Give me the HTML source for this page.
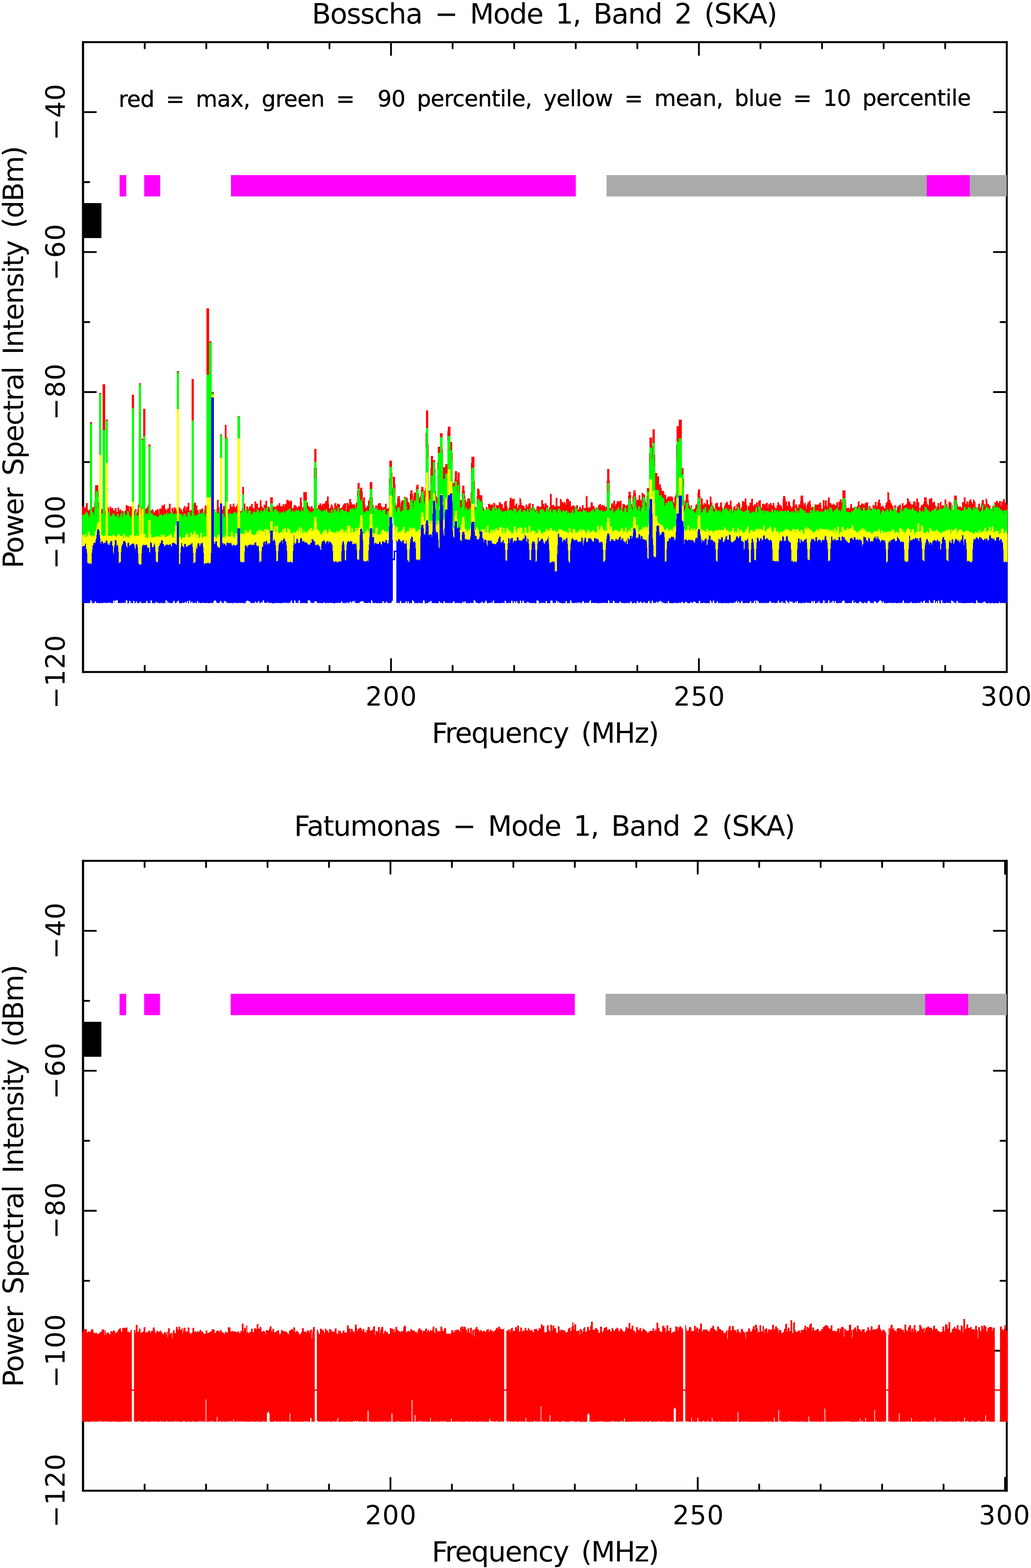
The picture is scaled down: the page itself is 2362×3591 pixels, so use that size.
<!DOCTYPE html>
<html lang="en">
<head>
<meta charset="utf-8">
<title>Power Spectral Intensity - Mode 1, Band 2 (SKA)</title>
<style>
html,body{margin:0;padding:0;background:#fff}
body{width:2362px;height:3591px}
svg{display:block;width:2362px;height:3591px}
text{font-family:"DejaVu Sans", "Liberation Sans", sans-serif;fill:#000;white-space:pre}
</style>
</head>
<body>
<svg width="2362" height="3591" viewBox="0 0 2362 3591">
<rect width="2362" height="3591" fill="#fff"/>
<g id="plot1">
<path d="M190.2 94.3V1541.2" fill="none" stroke="#000" stroke-width="5.0"/>
<path d="M2306.5 94.3V1541.2" fill="none" stroke="#000" stroke-width="4.4"/>
<path d="M188.29999999999998 96.5H2308.3M188.29999999999998 1539.0H2308.3" fill="none" stroke="#000" stroke-width="4.4"/>
<path d="M331.6 1539.0v-14.3M331.6 96.5v14.3M472.6 1539.0v-14.3M472.6 96.5v14.3M613.7 1539.0v-14.3M613.7 96.5v14.3M754.8 1539.0v-14.3M754.8 96.5v14.3M895.8 1539.0v-29.6M895.8 96.5v29.6M1036.9 1539.0v-14.3M1036.9 96.5v14.3M1178.0 1539.0v-14.3M1178.0 96.5v14.3M1319.0 1539.0v-14.3M1319.0 96.5v14.3M1460.1 1539.0v-14.3M1460.1 96.5v14.3M1601.2 1539.0v-29.6M1601.2 96.5v29.6M1742.2 1539.0v-14.3M1742.2 96.5v14.3M1883.3 1539.0v-14.3M1883.3 96.5v14.3M2024.4 1539.0v-14.3M2024.4 96.5v14.3M2165.4 1539.0v-14.3M2165.4 96.5v14.3M190.2 1378.7h14.3M2306.4 1378.7h-14.3M190.2 1218.4h29.6M2306.4 1218.4h-29.6M190.2 1058.2h14.3M2306.4 1058.2h-14.3M190.2 897.9h29.6M2306.4 897.9h-29.6M190.2 737.6h14.3M2306.4 737.6h-14.3M190.2 577.3h29.6M2306.4 577.3h-29.6M190.2 417.1h14.3M2306.4 417.1h-14.3M190.2 256.8h29.6M2306.4 256.8h-29.6" fill="none" stroke="#000" stroke-width="4.1" stroke-linecap="round"/>
<rect x="190.5" y="465.1" width="41.9" height="80.1" fill="#000"/>
<rect x="274.0" y="401.0" width="15.2" height="48.9" fill="#f0f"/>
<rect x="330.4" y="401.0" width="36.4" height="48.9" fill="#f0f"/>
<rect x="529.1" y="401.0" width="790.0" height="48.9" fill="#f0f"/>
<rect x="1389.6" y="401.0" width="916.9" height="48.9" fill="#aaa"/>
<rect x="2123.1" y="401.0" width="98.7" height="48.9" fill="#f0f"/>
<g shape-rendering="crispEdges">
<path fill="#f00" d="M188 1381V1159h1v1h2v3h1v5h1v-6h2v1h1v-6h1v-5h2v1h1v-1h1v16h1v1h2v-3h1v1h1v-200h5v195h1v-1h2v3h1v-4h1v-11h1v-25h1v-13h7v13h1v26h1v-250h5v266h1v1h1v-3h1v-284h6v290h1v-209h5v198h1v4h1v1h1v9h1v-13h3v1h1v4h1v-2h2v1h2v5h3v-6h2v1h2v9h2v-10h1v-1h3v8h1v-3h1v-1h1v1h2v4h2v-1h4v2h1v-2h1v-1h1v1h1v-13h2v-1h1v1h1v2h1v-1h1v1h2v12h1v-12h1v1h2v1h1v-1h1v-256h5v267h1v-1h1v-4h4v9h1v-3h1v-6h1v-10h1v-1h1v-277h5v284h1v-157h4v-69h5v229h1v1h1v-3h3v-4h1v-4h1v-137h5v152h1v-1h1v-2h2v-1h2v4h1v5h1v-2h1v-1h1v-4h1v1h3v-2h1v-1h3v1h1v10h1v-13h1v1h2v-1h1v1h1v-8h1v1h2v-1h2v-1h1v-1h1v-1h1v12h3v1h1v3h1v-6h4v-11h1v1h3v19h2v-9h2v-1h1v-1h1v8h1v-8h4v3h2v5h1v-320h5v311h2v4h3v1h1v2h1v3h1v2h1v-9h2v-4h1v-1h1v-1h1v1h1v10h1v-7h1v-1h2v-1h1v-9h2v1h2v18h2v-1h1v-1h2v-300h5v285h1v-2h4v6h2v1h1v10h3v8h1v-1h1v-8h2v1h1v-3h1v1h1v-1h1v-1h3v7h1v-4h2v-9h1v-1h2v1h1v-452h6v76h6v116h5v269h1v1h3v5h2v-8h1v-20h1v-1h1v1h2v16h1v1h1v11h1v-178h5v172h2v-8h3v-1h1v-185h4v30h3v165h1v-1h1v-2h2v-11h1v1h2v-1h1v6h1v1h1v-1h1v-6h2v-1h2v7h1v1h1v1h2v-5h1v2h1v-5h1v-201h6v217h1v1h2v-1h1v-6h1v-49h4v38h3v15h1v-1h1v-7h4v6h2v-5h1v-1h3v-1h1v-4h1v-1h3v9h3v4h1v-18h1v-1h2v1h1v4h1v1h2v-1h1v9h1v1h2v-1h1v-16h2v-1h1v1h1v13h1v1h1v2h2v1h1v-7h1v-1h1v1h2v-9h2v-1h1v1h1v14h1v-1h1v1h1v1h1v-1h2v8h1v-30h6v21h2v-2h1v2h1v2h1v-1h2v-1h1v-2h1v-1h1v-1h1v1h1v2h1v-6h2v-1h2v7h3v1h2v-4h1v-1h1v-1h1v1h1v5h1v-5h1v-1h1v-1h1v1h1v-9h2v-1h2v2h3v3h2v-3h2v1h1v1h1v17h1v-1h2v-3h1v-4h1v-1h1v1h1v-1h1v2h1v1h2v3h2v1h1v-4h3v1h1v-21h4v11h1v15h1v-3h1v-1h1v-34h8v24h2v-1h1v9h2v1h1v1h2v4h1v-5h1v-1h1v-1h1v1h1v6h1v-2h1v1h1v-93h1v-43h5v43h1v93h1v2h1v-9h3v-1h1v-4h1v1h3v5h2v-5h1v1h3v-2h1v1h2v-5h1v-1h3v-10h4v17h1v11h1v-1h1v-1h1v-4h1v-4h1v1h1v-1h1v1h1v5h1v4h1v-2h2v-10h2v-1h1v-1h1v7h1v1h1v-5h1v-1h2v1h1v1h1v1h1v-1h1v9h1v1h1v-2h2v-2h2v-4h1v-2h2v-2h1v-1h1v1h3v15h1v-16h1v-1h1v1h1v1h2v4h1v-14h3v-1h1v8h2v5h6v1h1v-1h1v8h1v-11h2v-2h1v-27h1v-17h5v17h1v-6h5v8h1v22h1v-8h4v16h1v8h1v-1h2v-4h3v-12h2v1h1v-8h1v-35h6v35h1v17h1v1h1v7h1v-1h1v8h1v-10h1v-4h1v1h1v-1h1v2h2v-5h2v-2h2v1h1v-1h2v1h1v6h1v1h1v-1h1v5h1v-3h1v1h1v-1h3v-7h2v-1h1v1h1v11h2v-1h2v-1h1v-67h1v-41h6v27h1v36h1v-26h5v17h1v43h1v5h1v3h1v-7h1v-13h1v-4h5v8h1v16h1v-8h1v-4h1v-2h4v-1h1v-7h5v2h4v9h2v1h1v1h1v5h1v-25h1v-8h5v8h1v15h1v-10h1v-8h5v-13h1v-5h5v20h1v10h2v-3h1v-3h1v-13h1v-6h5v7h1v13h1v-11h1v-1h1v-6h1v-126h1v-51h5v76h1v108h3v-3h1v-48h1v-29h5v10h5v20h1v51h1v12h2v3h1v-81h1v-36h5v-31h6v37h1v41h5v-7h5v-76h1v-10h6v35h4v25h1v69h4v-9h1v-18h5v21h1v-18h5v26h1v37h4v-21h1v-12h5v12h1v11h1v10h2v5h2v-6h1v-3h5v2h1v4h1v-20h1v-67h1v-14h7v55h1v59h1v1h1v2h1v-1h1v-26h1v-17h5v4h1v11h5v1h1v14h1v12h1v1h1v3h2v2h2v2h1v-8h2v1h2v4h1v-12h3v-1h1v2h1v1h3v-1h3v3h1v-7h1v1h3v2h1v10h1v-6h1v-2h2v1h4v-7h4v3h1v1h1v1h2v-1h1v9h2v1h1v-15h1v1h1v-2h1v-1h2v1h1v10h1v4h1v4h2v-2h1v-1h1v-16h1v-7h3v-1h1v4h3v-1h4v17h1v-2h1v-4h1v1h1v-1h2v11h1v-1h1v-6h1v-1h1v1h1v-17h1v1h1v1h2v9h1v6h1v-1h1v2h3v1h2v6h1v-1h1v-8h1v-1h1v1h2v5h1v-1h1v-6h1v1h1v-2h1v-1h2v1h1v12h2v-5h1v-6h3v1h1v8h2v1h1v4h2v-1h1v-7h2v-1h4v1h1v1h3v-1h1v-14h1v-1h2v1h1v8h3v7h1v-9h1v1h1v-1h2v4h1v2h2v-1h1v9h1v-1h1v-3h1v-1h1v-30h4v26h3v-1h3v3h1v1h2v-20h2v1h1v-1h1v19h2v1h1v-1h1v1h1v-2h1v-16h1v1h2v2h1v4h1v1h2v-1h1v4h1v-3h3v2h1v4h1v-13h1v-1h2v-1h1v3h1v-1h1v1h1v4h4v12h3v-2h1v-2h1v1h1v1h2v2h3v-1h1v-2h3v1h1v9h1v-1h2v-6h2v1h1v1h1v3h2v-8h2v-1h1v1h1v7h3v-1h2v-27h1v-1h1v1h2v26h1v1h1v-1h5v-10h1v-2h3v1h1v8h1v-1h1v1h1v1h1v5h1v-1h1v1h1v-1h1v-2h4v-5h3v-3h4v6h1v-3h2v-1h2v2h4v3h1v1h1v-2h2v-59h1v-27h5v27h1v63h1v-1h1v-1h1v-8h1v-1h1v-1h2v4h1v-9h2v-1h2v13h1v-5h2v-1h1v-6h1v1h1v-1h2v1h1v1h2v-2h1v-1h2v1h1v14h1v1h1v-8h1v1h1v-1h2v1h2v3h3v-1h2v-1h1v-1h1v-20h1v-9h5v8h1v20h2v7h1v-24h1v-3h1v-11h5v6h1v10h1v7h1v-1h3v-1h1v-10h3v1h1v10h1v-1h1v3h1v-19h1v1h3v3h3v2h1v10h1v6h1v1h1v-16h1v-17h5v-80h1v-36h6v20h1v-39h5v58h1v42h5v8h4v18h2v1h1v-1h1v8h2v7h5v3h1v7h1v-1h3v9h1v1h1v-3h1v-3h12v3h1v9h2v4h1v-15h1v-1h1v-2h1v-5h1v-111h1v-43h5v-15h7v111h4v24h1v48h1v13h1v-9h1v-3h1v-13h6v14h1v7h1v5h2v4h1v-4h1v-1h1v1h2v9h3v-1h2v-1h1v-2h1v-7h2v-1h2v-5h1v-22h1v-7h5v16h1v19h1v-16h1v1h1v1h2v14h1v-1h1v-4h1v1h1v1h1v-2h1v4h1v-1h1v-9h2v-1h2v10h1v1h1v1h1v1h1v-21h1v1h2v1h1v13h2v6h2v2h1v5h1v1h2v-12h2v1h1v-3h2v1h1v-1h1v9h1v1h2v1h1v-5h1v-6h1v-1h2v1h1v11h2v1h1v1h1v1h1v-7h1v-1h1v-5h2v1h1v-4h3v1h1v7h1v-1h3v-10h2v1h2v12h1v5h1v1h1v5h1v-9h1v-2h3v-1h1v8h1v-1h1v-11h1v1h2v-1h1v-4h1v1h2v1h1v3h1v10h2v-4h1v-1h1v-13h1v1h3v1h2v-8h1v1h2v-1h1v15h1v1h1v9h1v-3h1v-4h2v-1h1v-7h4v-9h1v1h1v-1h2v16h1v2h1v-5h4v1h1v-5h2v-1h2v10h1v-13h1v2h1v-4h1v1h1v-1h2v18h1v-1h2v-8h3v-1h1v2h4v-3h2v-1h2v1h1v11h1v-9h1v1h3v-4h1v1h2v1h1v5h2v-6h1v1h1v-1h1v-1h1v8h1v3h1v2h3v-6h2v-7h1v-1h2v1h1v4h1v1h2v1h1v1h2v4h1v5h1v-24h1v-7h5v5h1v8h1v-1h2v11h1v-1h1v-10h2v1h1v-1h1v3h1v7h2v5h1v-1h2v-2h1v-12h1v-3h1v-1h1v-1h2v15h1v-3h1v-1h1v1h1v1h1v4h1v2h1v1h1v-8h3v1h1v-8h1v-13h6v13h1v10h1v-5h1v-1h3v7h1v6h1v-9h1v-2h1v-4h2v1h1v-3h1v-2h1v1h1v-1h1v9h1v9h1v-3h2v-1h2v1h2v-1h1v-5h2v1h1v-1h1v1h3v-1h4v-4h4v7h1v7h1v2h1v-4h1v-18h4v14h1v-12h1v-1h3v12h1v3h1v-16h1v-5h1v-1h2v1h1v12h3v1h1v3h3v-3h2v1h1v1h1v3h1v-2h2v1h1v-6h1v-1h3v12h1v-13h2v-1h1v-5h1v1h1v-1h1v1h1v7h1v-7h1v-21h7v21h1v13h1v7h2v-1h4v1h1v3h1v-5h1v-7h1v-1h3v10h1v-1h3v-2h2v-1h2v1h1v1h2v-2h1v-1h1v-9h1v-1h1v-1h1v-1h1v10h3v-1h1v-3h4v1h2v2h2v-5h1v1h3v-2h1v-1h1v2h2v11h1v-3h4v8h1v-4h1v1h1v1h2v-9h1v1h2v-1h1v4h1v-10h2v-1h2v9h1v1h1v-9h2v-5h2v-1h1v-1h1v9h2v8h1v1h1v-2h1v-1h3v2h1v4h2v1h1v-8h1v-5h2v-2h1v-1h1v-22h2v1h2v16h1v1h2v6h2v2h1v3h1v2h1v1h2v10h1v-4h1v-8h2v1h1v-2h1v11h1v1h1v-7h1v-1h1v-1h3v-3h3v-1h1v9h1v1h1v-13h1v1h1v-1h2v7h1v-1h1v-1h1v-1h3v-2h1v-1h1v-12h2v1h2v5h1v1h1v1h2v5h2v1h1v2h1v-2h2v-7h1v1h1v-1h2v2h2v9h1v-16h1v-1h2v-1h1v8h1v1h2v15h1v-1h1v-1h1v-4h1v-3h2v1h2v-3h2v-5h1v-10h6v10h1v5h1v1h1v2h1v1h1v-15h2v-1h2v-2h1v1h1v-1h1v1h1v10h2v-1h1v-1h3v8h1v1h1v2h1v5h1v-5h2v-8h3v1h1v12h1v-14h1v-1h1v-1h2v11h1v-2h1v-1h3v4h1v-4h1v-13h1v-1h1v1h2v11h2v1h1v6h1v-1h1v-12h1v-1h1v1h2v2h2v1h1v4h1v1h2v12h1v-3h1v-19h1v-12h6v12h1v8h1v4h1v1h2v1h1v-2h1v1h3v3h2v-13h4v-11h4v15h1v1h1v-8h1v1h1v1h2v7h1v-8h2v-4h2v-1h2v5h1v2h1v3h2v-9h2v1h1v1h1v3h1v1h1v13h1v-2h1v1h4v-8h2v-1h2v10h1v-1h1v-4h1v-5h1v-6h1v-2h4v9h1v1h2v5h1v-19h1v1h1v1h1v2h1v8h1v1h1v1h2v4h1v-1h1v-1h1v7h1v2h1v-1h1v-1h1v-4h1v-1h1v-1h2v-3h1v-5h3v1h1v-4h4v4h1v1h2v-5h1v1h2v-1h1v12h1v-12h1v2h3v-6h4v6h1v3h1v1h1v1h1v1h1v1h1V1380h-1v2h-1v-1h-2v-1h-1v1h-1v1h-1v-1h-1v-4h-3v3h-1v1h-3v1h-1v-4h-1v1h-1v-2h-1v4h-1v1h-1v-1h-2v1h-1v-1h-3v1h-1v-1h-2v1h-2v-1h-6v1h-3v-1h-1v-1h-1v1h-1v1h-1v-1h-1v1h-2v-1h-2v-2h-1v-1h-1v-1h-1v3h-1v-1h-3v2h-1v1h-1v-1h-4v-1h-1v2h-1v-2h-2v1h-1v-1h-1v-5h-3v7h-2v-1h-3v1h-1v-1h-2v-1h-2v1h-13v1h-1v-1h-3v1h-1v-1h-2v1h-1v-1h-2v-1h-1v1h-4v-1h-1v1h-2v-3h-1v-2h-1v1h-1v-1h-1v6h-1v-1h-2v-1h-2v1h-1v-4h-1v1h-2v-3h-1v1h-1v-1h-1v7h-1v-1h-2v-1h-1v1h-3v-1h-2v1h-2v-1h-1v1h-2v1h-1v-1h-5v-5h-1v-2h-2v8h-1v-1h-1v1h-1v-1h-1v-6h-1v1h-1v-1h-1v6h-2v-4h-2v1h-1v3h-2v-6h-1v-1h-2v6h-1v1h-4v-1h-1v1h-1v-1h-1v-5h-1v1h-1v-2h-1v7h-1v1h-1v-1h-1v-1h-1v1h-1v-1h-1v1h-3v-5h-1v-1h-1v1h-1v1h-1v4h-3v-3h-3v4h-1v-1h-4v-1h-1v1h-2v-1h-1v2h-1v-1h-9v1h-1v-3h-2v-1h-1v3h-6v1h-1v-1h-1v1h-1v-2h-1v1h-2v-1h-1v1h-1v1h-1v-7h-2v1h-1v4h-1v1h-2v-1h-1v1h-1v1h-1v-2h-1v1h-6v1h-1v-1h-3v-1h-1v1h-3v-1h-1v2h-1v-1h-2v-1h-1v1h-4v-1h-1v1h-5v1h-3v-2h-1v1h-3v-4h-1v2h-1v-1h-1v3h-1v-1h-1v-4h-1v1h-1v-3h-1v2h-1v-1h-1v1h-1v3h-1v-1h-1v1h-1v2h-1v1h-1v-1h-1v-1h-1v-1h-1v-1h-1v-1h-3v4h-2v1h-1v-1h-1v-1h-2v1h-3v-5h-1v1h-1v-1h-1v1h-1v-1h-1v4h-1v1h-1v1h-1v-1h-1v-1h-1v1h-1v-2h-1v1h-1v-1h-1v3h-2v-1h-1v-1h-1v2h-1v-2h-1v-3h-1v2h-1v-2h-1v2h-1v-1h-1v4h-1v-1h-5v1h-1v-3h-3v2h-2v-1h-1v-6h-1v2h-2v5h-10v1h-1v-1h-2v1h-1v-2h-1v1h-2v-5h-1v-2h-1v2h-3v1h-1v4h-2v-1h-1v1h-4v-1h-1v1h-1v1h-2v-1h-3v-4h-2v-1h-1v5h-2v-5h-3v5h-1v-2h-2v1h-2v1h-2v-6h-3v5h-1v1h-1v1h-1v-1h-2v-1h-1v1h-1v1h-1v-7h-2v-1h-1v7h-1v-1h-2v2h-2v-1h-2v1h-1v-4h-1v-1h-2v4h-1v-1h-3v1h-1v1h-2v-1h-1v-5h-3v4h-1v1h-1v-4h-1v-1h-2v4h-1v1h-5v-1h-1v1h-2v-1h-4v-1h-1v2h-2v1h-1v-1h-1v-1h-2v2h-1v-2h-1v2h-1v-1h-1v1h-1v-2h-1v1h-4v1h-1v-5h-1v-1h-1v1h-1v4h-1v-2h-1v-1h-2v3h-5v-3h-2v1h-1v-2h-1v1h-3v-2h-1v6h-2v-2h-1v-2h-1v1h-1v-4h-1v1h-1v-1h-1v7h-2v-1h-1v-1h-2v1h-1v1h-1v-5h-1v1h-1v-1h-1v4h-2v-1h-1v1h-2v-5h-1v-1h-1v1h-1v4h-1v1h-1v-1h-1v1h-1v1h-1v-1h-2v-1h-1v1h-2v-1h-1v1h-1v-1h-1v1h-2v-1h-1v-3h-2v-1h-1v3h-1v2h-5v1h-1v-2h-2v2h-1v-2h-1v1h-1v1h-1v-2h-1v1h-2v1h-1v-2h-1v1h-7v-5h-1v1h-1v1h-1v-3h-1v1h-1v-2h-1v8h-1v-1h-1v-6h-1v1h-1v1h-1v4h-2v-1h-1v1h-3v-4h-3v3h-1v1h-2v1h-1v-1h-3v-1h-1v1h-4v1h-1v-1h-1v1h-1v-1h-2v-4h-1v-2h-1v2h-1v4h-3v1h-1v-4h-3v4h-1v-2h-1v-5h-1v2h-2v4h-1v-2h-1v-1h-1v2h-1v1h-1v-1h-1v1h-1v1h-1v-1h-2v-1h-1v1h-3v-1h-1v1h-1v1h-2v-2h-1v1h-1v1h-2v-1h-2v1h-1v-2h-1v1h-3v1h-2v-1h-3v1h-1v-1h-1v-1h-1v1h-3v1h-1v-4h-1v-1h-2v3h-1v1h-1v1h-1v-1h-1v-1h-1v1h-1v-7h-1v2h-1v-1h-1v5h-1v2h-1v-3h-2v-4h-2v1h-1v6h-2v-1h-5v1h-1v-1h-5v-1h-2v1h-1v1h-1v-1h-5v-5h-3v4h-1v2h-2v-1h-4v-3h-1v1h-2v-1h-1v-1h-1v1h-1v3h-3v-2h-1v1h-1v-2h-1v3h-2v1h-1v-1h-1v1h-1v-1h-2v-1h-1v1h-1v-3h-3v2h-1v1h-2v1h-1v-1h-1v-1h-1v-3h-1v1h-1v1h-1v2h-3v-1h-1v1h-2v-1h-2v2h-2v-2h-1v1h-3v-1h-1v2h-1v-2h-1v1h-2v1h-2v-1h-2v1h-1v-1h-4v-5h-1v1h-2v5h-1v-1h-1v-1h-1v2h-1v-1h-1v1h-2v-1h-3v-1h-1v2h-1v-3h-1v-2h-1v1h-1v3h-1v-5h-1v-1h-1v2h-1v1h-3v3h-2v-3h-3v2h-1v1h-2v-1h-1v1h-3v-5h-2v-1h-1v6h-1v1h-2v-2h-1v1h-1v-5h-2v1h-1v3h-1v1h-3v1h-1v-2h-1v1h-2v-2h-1v-1h-1v1h-1v2h-2v1h-1v-1h-1v-2h-1v-1h-1v-1h-1v4h-1v-1h-2v1h-2v-5h-1v1h-2v4h-2v1h-2v-2h-2v1h-3v1h-2v-1h-1v-4h-1v1h-1v-1h-1v3h-1v1h-1v1h-1v-1h-4v-1h-1v1h-1v1h-1v-2h-1v2h-2v-1h-6v-1h-1v1h-2v-4h-1v1h-2v4h-1v-1h-10v-4h-1v-1h-3v5h-3v-1h-1v1h-4v-6h-3v7h-1v-1h-2v-1h-1v1h-5v-1h-1v1h-9v1h-1v-2h-1v2h-2v-1h-1v1h-1v-1h-2v-1h-1v1h-6v-1h-1v1h-4v-6h-1v-1h-1v2h-1v1h-1v4h-1v-1h-1v1h-2v-1h-1v1h-1v-1h-1v1h-2v-1h-1v2h-1v-1h-1v-3h-1v-2h-1v1h-2v4h-1v-1h-1v1h-1v1h-1v-1h-1v-2h-1v1h-1v-1h-1v2h-2v-1h-2v-1h-1v3h-1v-1h-1v-1h-1v1h-3v1h-1v-2h-1v1h-3v-1h-1v-5h-3v7h-1v-1h-5v1h-1v-5h-2v-1h-1v6h-1v-2h-1v1h-3v1h-1v-1h-2v1h-1v-1h-3v-1h-1v1h-2v-3h-2v1h-1v2h-1v-5h-1v1h-1v-2h-1v6h-1v-1h-2v1h-1v1h-1v-1h-3v-5h-1v-1h-2v1h-1v-1h-1v6h-1v1h-1v-1h-3v1h-1v-1h-2v-4h-1v-1h-1v1h-1v5h-1v-1h-3v-1h-1v1h-5v-1h-1v1h-2v1h-2v-6h-1v1h-1v-1h-1v-1h-3v7h-3v-1h-5v1h-1v-1h-1v-1h-1v2h-1v-1h-5v-2h-4v-1h-1v2h-1v2h-1v-1h-5v-5h-1v-1h-1v1h-1v4h-1v1h-2v-5h-1v-1h-1v1h-1v6h-1v-1h-1v1h-3v-2h-1v-4h-1v1h-2v4h-2v-4h-3v4h-3v-6h-1v1h-2v5h-4v-1h-1v1h-3v1h-1v-2h-1v2h-1v-2h-1v-4h-3v6h-1v-1h-2v-1h-1v1h-6v1h-1v-1h-2v1h-1v-2h-1v1h-2v1h-1v-1h-3v1h-1v-1h-2v-6h-2v1h-1v5h-1v-1h-5v1h-5v1h-1v-1h-2v-5h-2v-1h-1v4h-2v2h-1v1h-1v-1h-2v-3h-2v1h-1v2h-2v-1h-1v1h-1v1h-1v-1h-1v1h-1v-1h-3v-1h-1v1h-2v-4h-2v-2h-2v-1h-1v7h-7v-1h-1v1h-1v1h-2v-1h-3v1h-1v-2h-1v2h-1v-1h-1v-4h-1v1h-1v-1h-1v3h-1v1h-1v-2h-1v-1h-2v4h-2v-1h-3v1h-1v-1h-1v-1h-1v1h-2v-1h-1v2h-1v-2h-1v1h-2v1h-1v-2h-1v1h-1v-4h-3v3h-1v1h-1v-1h-1v1h-1v1h-1v-1h-1v-1h-1v1h-2v1h-1v-2h-1v1h-8v-4h-3v4h-1v1h-2v-1h-1v-1h-1v1h-2v-1h-1v-3h-1v1h-1v-1h-1v4h-1v1h-1v-1h-1v1h-1v-1h-6v1h-1v-1h-4v1h-1v-6h-1v1h-1v-1h-1v4h-1v-1h-1v-1h-2v2h-1v2h-1v-1h-4v1h-3v-6h-1v-1h-3v7h-1v-1h-1v-1h-1v1h-1v1h-2v-2h-1v1h-1v-1h-1v1h-2v-1h-1v2h-2v-1h-4v1h-1v-1h-1v-4h-1v1h-1v-3h-3v7h-1v-1h-2v-1h-1v2h-3v-4h-2v-1h-1v4h-1v1h-1v-5h-1v1h-1v-1h-1v4h-1v-1h-1v2h-1v-1h-7v-5h-1v1h-1v-1h-1v6h-1v-1h-2v-1h-1v1h-6v1h-1v-4h-1v-1h-1v-1h-2v-1h-1v1h-2v1h-1v4h-10v-3h-3v3h-1v-1h-2v2h-1v-1h-1v-4h-3v4h-1v1h-1v-1h-4v1h-1v-1h-1v-1h-1v2h-1v-1h-1v1h-1v-1h-5v-1h-1v2h-1v-1h-3v-1h-1v-4h-1v-2h-1v1h-1v7h-1v-1h-3v-1h-2v1h-8v-1h-2v1h-1v-4h-5v-1h-1v2h-1v1h-1v-1h-1v4h-1v-2h-1v1h-3v1h-1v-1h-3v-1h-1v1h-1v-5h-1v1h-1v-2h-1v5h-1v-3h-1v1h-1v-1h-1v4h-1v-1h-1v-2h-2v-1h-1v3h-1v2h-2v-3h-1v1h-1v-1h-1v3h-1v-1h-1v-1h-1v1h-2v1h-1v-1h-5v-4h-2v1h-1v3h-5v-1h-1v1h-1v-1h-1v1h-6v1h-2v-1h-1v1h-1v-1h-2v-1h-1v1h-4v-1h-2v1h-2v1h-1v-1h-2v-1h-1v1h-1v1h-2v-2h-2v-2h-1v3h-4v1h-1v-1h-5v-1h-1v2h-1v-1h-4v-4h-2v1h-1v-1h-1v1h-1v-1h-1v5h-1v-1h-1v-1h-1v1h-3v-1h-2v1h-1v-5h-1v-1h-3v-1h-1v1h-1v7h-1v-1h-2v1h-1v-1h-7v1h-1v-2h-1v1h-4v1h-1v-7h-3v6h-2v-1h-1v1h-4v-5h-1v-1h-2v6h-1v1h-1v-1h-3v-6h-2v1h-1v4h-1v1h-1v-1h-3v2h-2v-2h-1v1h-1v-1h-1v1h-1v-1h-2v2h-1v-2h-2v1h-6v1h-1v-1h-5v1h-1v-2h-1v1h-8v1h-4v-1h-3v-1h-1v1h-4v1h-1v-3h-1v-1h-1v2h-1v1h-1v-1h-1v1h-2v-1h-1v1h-1v-1h-1v-5h-3v6h-1v-3h-1v1h-1v1h-1v1h-1v-1h-1v1h-1v1h-1v-5h-2v-1h-1v4h-2v1h-2v-3h-1v1h-1v-2h-1v4h-3v-1h-1v1h-3v1h-1v-1h-2v-3h-2v-1h-1v1h-1v-1h-1v-2h-1v1h-1v-1h-1v2h-3v5h-1v-1h-1v1h-1v-2h-1v2h-2v-2h-1v1h-7v-1h-1v1h-9v-1h-1v1h-1v1h-1v-2h-2v2h-2v-1h-8v-1h-1v2h-1v-1h-3v-3h-2v1h-1v-3h-1v1h-1v-1h-1v6h-1v-2h-1v1h-3v-2h-1v-3h-1v1h-1v-1h-1v4h-1v1h-4v-1h-1v1h-2v-3h-1v-1h-1v-2h-3v2h-2v4h-7v-1h-1v1h-1v1h-1v-1h-2v1h-1v-1h-1v-1h-1v1h-9v-1h-2v1h-2v1h-1v-1h-2v-1h-2v1h-2v-5h-1v1h-2v5h-1v-1h-2v-1h-2v1h-2v1h-1v-1h-2v-3h-2v1h-1v2h-2v-6h-1v1h-1v-1h-1v7h-2v-5h-2v-1h-1v5h-2v-2h-1v-1h-1v1h-1v2h-4v-1h-2v1h-1v1h-1v-1h-1v1h-1v-1h-3v-6h-1v1h-2v2h-2v2h-1v1h-1v1h-1v-2h-1v1h-1v-5h-3v4h-1v2h-1v-2h-1v1h-8v-2h-1v-1h-1v-1h-1v5h-1v-8h-1v1h-2v6h-2v1h-1v-1h-4v1h-1v-2h-1v1h-1v-1h-1v1h-1v1h-2v-1h-1v-1h-1v1h-3v-3h-1v1h-1v-1h-1v3h-3v1h-2v-2h-1v1h-1v1h-1v-1h-1v-6h-3v7h-1v-2h-1v1h-2v1h-1v-1h-1v1h-1v-5h-2v-1h-1v5h-9v1h-2v-3h-1v-1h-2v2h-2v1h-2v1h-1v-1h-2v-4h-1v1h-2v3h-1v1h-1v-1h-1v-4h-1v-1h-2v6h-1v-1h-1v1h-1v-2h-1v1h-2v-5h-3v5h-1v1h-1v-1h-1v1h-1v-6h-1v-2h-1v1h-2v6h-3v-1h-1v1h-3v-1h-1v1h-3v-1h-1v2h-1v-1h-5v-7h-1v2h-1v-2h-1v1h-3v1h-1v5h-1v-6h-1v1h-2v6h-1v-1h-2v1h-1v-1h-1v-1h-2v1h-1v-1h-1v1h-2v-1h-1v1h-5v-1h-1v1h-2v-1h-1v1h-4v1h-1v-1h-1v-1h-1v1h-2v1h-2v-1h-4v-1h-1v1h-1v1h-1v-5h-2v1h-1v3h-2v1h-1v-2h-1v2h-1v-2h-1v1h-1v-6h-1v1h-1v-2h-1v7h-5v1h-1v-2h-1v1h-1v-1h-1v1h-1v1h-1v-1h-3v-1h-1v1Z"/>
<path fill="#0f0" d="M188 1381V1180h3v-2h1v-1h4v-6h1v1h3v3h1v1h1v3h1v4h1v1h1v-5h1v-209h5v203h2v-1h1v2h1v6h1v-15h1v-27h1v-13h7v13h1v27h1v-263h5v274h3v-191h6v193h1v-214h5v213h1v-5h1v1h2v-1h1v10h1v1h1v-1h1v-2h1v-1h1v-2h1v-2h4v6h1v1h1v-1h2v2h1v1h1v-7h1v-1h1v1h1v1h1v9h1v-4h2v-2h1v-6h3v-1h1v12h1v-6h1v-9h1v-1h1v2h1v-2h1v8h1v1h1v-1h1v2h2v-9h1v-1h1v1h1v1h1v3h1v6h2v2h1v1h2v-3h1v-246h5v246h1v-1h1v-9h4v8h2v3h2v-1h1v-301h5v298h1v-170h4v-9h5v179h1v-1h2v-1h1v-1h2v4h1v-157h5v153h4v2h1v1h1v3h1v-1h1v1h1v-1h2v1h3v2h2v1h2v-1h1v-4h4v-1h2v-1h1v1h1v4h1v-2h2v-2h1v-1h2v1h2v-4h3v1h1v6h1v-4h1v-1h1v-1h2v1h1v-1h1v1h1v-3h1v-1h3v7h1v-3h1v1h2v1h1v-2h2v1h2v-324h5v323h2v1h2v1h2v-1h2v5h1v2h1v-7h3v-2h1v3h2v4h1v2h2v-9h1v-1h2v-2h4v10h1v-1h2v-218h5v213h1v5h1v-1h1v1h2v-1h2v1h1v-3h1v-1h2v-1h1v1h4v-3h2v1h2v1h1v-11h1v6h1v-4h2v16h1v-6h2v1h1v-320h6v-74h6v117h5v269h2v-1h1v-1h1v5h3v2h1v1h1v-1h2v1h1v-8h1v5h1v-176h5v179h1v1h1v-1h1v7h1v1h1v-1h1v-179h7v179h1v-7h2v-1h2v1h4v2h2v-1h1v-3h1v-1h2v-1h1v1h1v-1h1v3h3v1h1v-222h6v220h1v1h1v-2h1v-1h2v-40h4v38h1v-1h1v2h1v-3h1v-1h1v-1h2v9h2v-6h5v1h1v-1h1v9h1v1h1v-1h1v-3h1v-1h1v-2h3v-2h1v3h4v-7h1v1h2v1h1v2h2v4h1v1h1v-5h1v-1h3v3h1v-1h3v-8h4v7h2v-8h4v10h5v-19h6v19h2v-5h1v-1h1v1h1v-1h1v-1h1v1h2v4h2v1h2v1h2v5h1v-1h1v-2h2v-1h1v-1h1v3h1v-3h1v-1h2v-1h1v4h2v-1h1v-3h4v-2h1v-1h3v-3h2v1h2v8h2v-4h3v1h1v1h3v1h2v-5h1v1h1v-1h2v3h1v-1h1v-1h2v3h3v3h1v-7h2v1h2v3h2v-25h8v19h1v1h1v3h2v1h2v7h1v-5h1v-1h1v2h1v1h1v-1h2v-4h1v1h2v-75h1v-37h5v37h1v75h1v-4h4v1h3v3h1v-1h1v2h1v2h1v-4h1v1h3v-2h2v1h2v-3h2v1h2v6h2v2h1v-1h2v1h1v1h1v-4h1v-4h2v-1h2v7h1v1h1v-10h2v-1h2v3h1v4h4v-9h1v-1h2v1h1v12h2v-5h1v-2h7v4h1v-1h1v1h1v-1h1v-1h1v1h3v3h1v1h1v-1h2v-2h2v-6h1v1h2v1h1v-3h1v-1h2v1h1v5h1v-4h2v-1h2v3h1v-4h1v-1h2v-26h1v-16h5v16h1v10h5v5h1v15h1v7h1v1h1v-1h1v1h1v-1h1v-2h2v-1h1v-1h4v1h2v-17h1v-33h6v33h1v10h2v1h1v10h1v-3h1v-7h2v-2h1v1h2v1h1v4h3v1h1v-1h1v-1h3v5h1v-1h1v-2h1v-1h3v-2h2v-1h1v1h1v10h1v2h2v1h1v-8h4v-62h1v-40h6v27h1v42h1v-21h5v14h1v34h1v7h2v-5h1v-4h1v-1h5v2h1v8h2v-1h1v-1h2v-1h1v-2h1v-14h1v-13h5v3h1v16h1v10h4v-2h1v-1h2v-16h1v-6h5v6h1v14h1v-11h1v-7h5v-20h1v-6h5v23h1v9h4v-20h1v-7h5v11h1v12h2v6h1v-16h1v-113h1v-45h5v68h1v101h1v-6h1v1h1v-1h1v-34h1v-20h5v-31h5v24h1v61h1v7h1v3h1v2h1v-81h1v-37h5v-36h6v39h1v57h4v-3h1v-9h5v-76h1v-10h6v32h4v25h1v58h5v-12h5v22h1v-14h5v21h1v35h1v-6h1v1h2v-20h1v-11h5v11h1v26h1v-5h3v-1h1v7h1v-1h3v-1h1v-1h2v-1h1v-19h1v-62h1v-12h7v50h1v48h1v-6h1v1h1v-1h1v-9h1v-12h5v3h1v3h5v1h1v14h1v7h1v-1h1v1h1v-5h1v2h2v2h1v-2h2v-3h2v2h1v-2h1v1h1v-1h1v5h2v1h2v1h1v-1h1v-5h1v-1h1v-1h1v-3h3v1h1v9h1v-6h1v-1h1v1h2v4h1v-1h1v-4h4v5h1v-1h1v1h2v5h1v-2h1v1h2v-1h3v-1h4v5h1v-7h1v-1h1v-1h1v1h1v2h1v-2h1v1h1v-1h2v1h2v2h2v1h2v-7h3v1h1v1h3v8h2v-3h1v-1h1v-1h2v-1h1v-3h1v-1h3v8h2v1h1v-2h1v-1h2v-2h4v4h1v-1h1v1h1v-7h1v1h3v7h1v1h1v-10h3v1h1v4h1v-1h2v-9h3v4h2v10h1v-1h1v-3h4v-1h1v6h1v1h1v2h1v-2h1v-7h1v-2h1v-1h1v1h2v1h5v4h2v1h1v1h1v-3h1v-4h1v-4h1v1h3v3h1v7h1v-3h1v-4h1v-1h3v7h1v-1h1v4h1v-8h6v1h1v1h1v1h1v5h1v-2h1v-6h2v-1h1v-1h3v3h2v5h3v-4h1v1h1v-1h2v1h1v1h3v-3h1v1h3v6h2v-2h1v1h1v1h1v-1h1v2h1v-2h2v-1h1v-4h1v-1h2v-1h1v10h1v-3h1v-2h1v-11h2v-1h2v5h2v7h2v1h1v-1h1v-2h1v1h1v-1h1v1h1v2h1v-1h1v-1h1v1h1v-5h1v-1h2v1h1v3h1v-1h3v1h1v5h1v-2h4v1h1v-1h1v-1h1v-1h1v-1h2v-1h1v1h1v-3h2v-1h1v1h1v6h2v-6h2v-2h2v-2h2v-1h1v1h1v6h1v-1h2v1h1v3h1v-4h1v1h2v-1h1v2h1v2h2v-1h3v-1h2v-1h2v-42h1v-21h5v21h1v43h3v-2h1v-3h1v-1h3v11h1v-1h1v-3h3v-2h1v-3h1v1h2v1h1v-5h1v-1h2v1h1v7h1v-1h1v-1h1v-7h3v1h1v9h1v1h2v-1h1v-6h1v-2h2v-1h2v11h1v1h1v-1h1v-8h1v-14h1v-9h5v8h1v10h1v5h1v-1h1v5h1v-21h1v-11h5v7h1v15h1v3h1v5h2v2h1v-9h2v-2h1v1h1v12h2v-8h3v-12h1v-13h5v3h1v17h1v12h1v-10h1v-12h1v-22h5v-66h1v-35h6v26h1v-36h5v54h1v53h9v13h1v-1h5v6h5v3h1v15h2v-6h3v-1h1v2h1v-5h12v5h1v4h1v2h1v4h1v4h1v-2h1v-3h1v-14h1v-98h1v-39h5v-7h7v83h4v24h1v57h1v3h1v-3h1v-7h1v-10h6v11h1v4h3v2h1v-9h1v1h1v1h2v7h1v1h1v1h2v2h1v1h1v1h3v-8h2v-1h1v-19h1v-6h5v14h1v10h1v10h1v-1h1v1h1v-1h1v-7h2v1h2v-6h1v1h2v-1h1v14h1v-1h2v-1h1v1h1v-6h1v-1h2v1h1v-8h1v1h1v-3h1v-1h1v-1h1v1h1v14h1v-1h1v1h1v1h1v1h1v-8h4v4h1v1h1v1h1v-2h1v2h1v-2h4v3h1v2h2v-5h1v-7h1v1h1v1h1v1h1v1h3v-3h3v1h1v5h3v1h1v3h1v-7h4v10h1v-10h1v-1h2v5h1v4h1v-2h1v-3h1v1h1v-2h4v3h1v-10h1v-1h3v7h1v-1h2v1h1v3h1v-1h2v1h1v2h1v1h1v-1h2v-1h4v-4h5v2h3v7h1v-1h2v-1h2v-2h3v-1h1v2h1v-1h1v1h1v1h1v-7h1v-5h1v-1h2v1h1v13h1v-2h1v-13h4v3h2v6h4v1h1v-1h4v7h1v-6h7v1h1v1h2v1h3v1h1v-7h1v-1h1v1h2v7h1v-1h1v-5h2v-1h2v2h1v3h1v-2h1v-1h1v-1h1v1h1v4h2v-3h1v-1h1v1h1v-1h1v1h1v1h1v-1h2v1h1v-1h1v1h2v-1h2v-1h2v2h3v-3h2v1h2v6h1v-2h2v-1h2v-1h4v1h2v2h1v1h1v-13h2v1h1v1h1v7h1v5h1v-6h2v-1h2v5h1v-10h2v-1h1v-1h1v3h1v2h1v-1h1v2h2v2h1v-1h2v1h1v5h1v-2h1v1h2v1h1v-1h1v5h1v-5h2v1h1v-6h1v-2h2v1h1v7h1v-6h3v-8h2v-1h1v-5h1v16h1v1h1v-1h2v-2h3v-1h1v3h1v1h1v2h1v-3h4v1h2v-1h1v1h1v1h1v-3h1v-1h1v-2h1v-1h3v3h2v-3h1v1h1v-1h2v7h1v-11h1v-1h1v1h2v2h2v4h1v5h1v-2h3v-4h1v1h1v-1h1v-1h1v1h1v-4h3v1h1v7h1v-4h1v1h1v1h2v2h1v1h1v-3h1v-4h1v-6h1v-18h7v18h1v12h2v2h1v-1h5v1h1v4h1v-4h1v-1h1v-1h4v-1h1v-2h1v-1h1v-6h1v-1h2v1h1v3h3v-1h1v3h1v1h1v-6h3v1h1v6h1v-1h1v3h2v-1h2v-7h4v6h1v2h1v-1h2v-1h3v-6h2v-1h1v-1h1v7h1v1h1v1h2v1h1v-5h3v-2h1v2h1v1h1v-1h4v4h1v1h1v-5h3v2h2v-1h1v1h1v10h2v-5h2v-3h1v-2h1v1h2v2h1v2h1v-1h1v-2h1v1h2v1h1v-6h1v1h1v1h2v2h1v3h2v-7h1v1h1v-1h2v4h3v3h1v-2h1v-1h1v-3h2v-4h3v5h1v1h1v6h2v-1h1v2h1v1h1v-2h2v-8h2v-2h1v1h1v6h1v-1h2v-1h1v-5h1v1h1v-1h1v-1h2v-1h1v1h2v3h1v-1h3v4h1v-4h2v1h1v1h1v1h2v-7h1v2h1v1h1v1h1v2h2v3h2v-1h1v1h2v1h1v1h1v3h1v-1h2v-8h1v1h3v4h1v1h1v-1h1v-1h1v-1h1v2h1v2h1v-1h1v-2h1v-9h3v-1h1v4h1v-1h1v4h1v1h1v1h3v4h2v1h1v-2h2v-4h1v1h1v-1h1v1h1v-1h1v-2h2v-2h1v-1h3v8h1v-2h1v-1h1v1h2v-4h1v1h4v-1h3v1h1v-1h1v-1h1v-1h3v-7h1v-1h1v1h2v10h1v-7h2v3h1v-1h1v4h4v5h1v-1h1v-12h1v-1h1v1h2v13h1v-2h1v-9h1v-13h6v13h1v9h1v-1h1v-1h1v1h1v1h3v2h4v-1h1v1h1v-1h1v-2h1v-6h2v-1h2v7h2v1h1v-1h1v-2h1v-5h1v1h1v1h4v1h2v3h1v2h2v1h1v-6h1v-1h1v-1h2v4h1v-1h1v1h2v-3h2v1h2v4h1v2h1v2h2v3h1v-3h1v-1h1v-4h1v-9h1v-1h1v-1h1v1h1v15h1v-1h1v-1h1v-4h3v-4h2v-1h1v1h1v2h2v5h1v-3h4v3h1v-3h1v-1h1v-3h2v10h1v-13h1v-3h1v-1h1v-1h1v12h1v-4h4v-1h1v3h1v1h1v-2h2v3h1v1h2v3h1v-1h1v1h3v6h1v-6h6v-1h3V1380h-1v2h-1v-1h-2v-1h-1v1h-1v1h-1v-1h-1v-4h-3v3h-1v1h-3v1h-1v-4h-1v1h-1v-2h-1v4h-1v1h-1v-1h-2v1h-1v-1h-3v1h-1v-1h-2v1h-2v-1h-6v1h-3v-1h-1v-1h-1v1h-1v1h-1v-1h-1v1h-2v-1h-2v-2h-1v-1h-1v-1h-1v3h-1v-1h-3v2h-1v1h-1v-1h-4v-1h-1v2h-1v-2h-2v1h-1v-1h-1v-5h-3v7h-2v-1h-3v1h-1v-1h-2v-1h-2v1h-13v1h-1v-1h-3v1h-1v-1h-2v1h-1v-1h-2v-1h-1v1h-4v-1h-1v1h-2v-3h-1v-2h-1v1h-1v-1h-1v6h-1v-1h-2v-1h-2v1h-1v-4h-1v1h-2v-3h-1v1h-1v-1h-1v7h-1v-1h-2v-1h-1v1h-3v-1h-2v1h-2v-1h-1v1h-2v1h-1v-1h-5v-5h-1v-2h-2v8h-1v-1h-1v1h-1v-1h-1v-6h-1v1h-1v-1h-1v6h-2v-4h-2v1h-1v3h-2v-6h-1v-1h-2v6h-1v1h-4v-1h-1v1h-1v-1h-1v-5h-1v1h-1v-2h-1v7h-1v1h-1v-1h-1v-1h-1v1h-1v-1h-1v1h-3v-5h-1v-1h-1v1h-1v1h-1v4h-3v-3h-3v4h-1v-1h-4v-1h-1v1h-2v-1h-1v2h-1v-1h-9v1h-1v-3h-2v-1h-1v3h-6v1h-1v-1h-1v1h-1v-2h-1v1h-2v-1h-1v1h-1v1h-1v-7h-2v1h-1v4h-1v1h-2v-1h-1v1h-1v1h-1v-2h-1v1h-6v1h-1v-1h-3v-1h-1v1h-3v-1h-1v2h-1v-1h-2v-1h-1v1h-4v-1h-1v1h-5v1h-3v-2h-1v1h-3v-4h-1v2h-1v-1h-1v3h-1v-1h-1v-4h-1v1h-1v-3h-1v2h-1v-1h-1v1h-1v3h-1v-1h-1v1h-1v2h-1v1h-1v-1h-1v-1h-1v-1h-1v-1h-1v-1h-3v4h-2v1h-1v-1h-1v-1h-2v1h-3v-5h-1v1h-1v-1h-1v1h-1v-1h-1v4h-1v1h-1v1h-1v-1h-1v-1h-1v1h-1v-2h-1v1h-1v-1h-1v3h-2v-1h-1v-1h-1v2h-1v-2h-1v-3h-1v2h-1v-2h-1v2h-1v-1h-1v4h-1v-1h-5v1h-1v-3h-3v2h-2v-1h-1v-6h-1v2h-2v5h-10v1h-1v-1h-2v1h-1v-2h-1v1h-2v-5h-1v-2h-1v2h-3v1h-1v4h-2v-1h-1v1h-4v-1h-1v1h-1v1h-2v-1h-3v-4h-2v-1h-1v5h-2v-5h-3v5h-1v-2h-2v1h-2v1h-2v-6h-3v5h-1v1h-1v1h-1v-1h-2v-1h-1v1h-1v1h-1v-7h-2v-1h-1v7h-1v-1h-2v2h-2v-1h-2v1h-1v-4h-1v-1h-2v4h-1v-1h-3v1h-1v1h-2v-1h-1v-5h-3v4h-1v1h-1v-4h-1v-1h-2v4h-1v1h-5v-1h-1v1h-2v-1h-4v-1h-1v2h-2v1h-1v-1h-1v-1h-2v2h-1v-2h-1v2h-1v-1h-1v1h-1v-2h-1v1h-4v1h-1v-5h-1v-1h-1v1h-1v4h-1v-2h-1v-1h-2v3h-5v-3h-2v1h-1v-2h-1v1h-3v-2h-1v6h-2v-2h-1v-2h-1v1h-1v-4h-1v1h-1v-1h-1v7h-2v-1h-1v-1h-2v1h-1v1h-1v-5h-1v1h-1v-1h-1v4h-2v-1h-1v1h-2v-5h-1v-1h-1v1h-1v4h-1v1h-1v-1h-1v1h-1v1h-1v-1h-2v-1h-1v1h-2v-1h-1v1h-1v-1h-1v1h-2v-1h-1v-3h-2v-1h-1v3h-1v2h-5v1h-1v-2h-2v2h-1v-2h-1v1h-1v1h-1v-2h-1v1h-2v1h-1v-2h-1v1h-7v-5h-1v1h-1v1h-1v-3h-1v1h-1v-2h-1v8h-1v-1h-1v-6h-1v1h-1v1h-1v4h-2v-1h-1v1h-3v-4h-3v3h-1v1h-2v1h-1v-1h-3v-1h-1v1h-4v1h-1v-1h-1v1h-1v-1h-2v-4h-1v-2h-1v2h-1v4h-3v1h-1v-4h-3v4h-1v-2h-1v-5h-1v2h-2v4h-1v-2h-1v-1h-1v2h-1v1h-1v-1h-1v1h-1v1h-1v-1h-2v-1h-1v1h-3v-1h-1v1h-1v1h-2v-2h-1v1h-1v1h-2v-1h-2v1h-1v-2h-1v1h-3v1h-2v-1h-3v1h-1v-1h-1v-1h-1v1h-3v1h-1v-4h-1v-1h-2v3h-1v1h-1v1h-1v-1h-1v-1h-1v1h-1v-7h-1v2h-1v-1h-1v5h-1v2h-1v-3h-2v-4h-2v1h-1v6h-2v-1h-5v1h-1v-1h-5v-1h-2v1h-1v1h-1v-1h-5v-5h-3v4h-1v2h-2v-1h-4v-3h-1v1h-2v-1h-1v-1h-1v1h-1v3h-3v-2h-1v1h-1v-2h-1v3h-2v1h-1v-1h-1v1h-1v-1h-2v-1h-1v1h-1v-3h-3v2h-1v1h-2v1h-1v-1h-1v-1h-1v-3h-1v1h-1v1h-1v2h-3v-1h-1v1h-2v-1h-2v2h-2v-2h-1v1h-3v-1h-1v2h-1v-2h-1v1h-2v1h-2v-1h-2v1h-1v-1h-4v-5h-1v1h-2v5h-1v-1h-1v-1h-1v2h-1v-1h-1v1h-2v-1h-3v-1h-1v2h-1v-3h-1v-2h-1v1h-1v3h-1v-5h-1v-1h-1v2h-1v1h-3v3h-2v-3h-3v2h-1v1h-2v-1h-1v1h-3v-5h-2v-1h-1v6h-1v1h-2v-2h-1v1h-1v-5h-2v1h-1v3h-1v1h-3v1h-1v-2h-1v1h-2v-2h-1v-1h-1v1h-1v2h-2v1h-1v-1h-1v-2h-1v-1h-1v-1h-1v4h-1v-1h-2v1h-2v-5h-1v1h-2v4h-2v1h-2v-2h-2v1h-3v1h-2v-1h-1v-4h-1v1h-1v-1h-1v3h-1v1h-1v1h-1v-1h-4v-1h-1v1h-1v1h-1v-2h-1v2h-2v-1h-6v-1h-1v1h-2v-4h-1v1h-2v4h-1v-1h-10v-4h-1v-1h-3v5h-3v-1h-1v1h-4v-6h-3v7h-1v-1h-2v-1h-1v1h-5v-1h-1v1h-9v1h-1v-2h-1v2h-2v-1h-1v1h-1v-1h-2v-1h-1v1h-6v-1h-1v1h-4v-6h-1v-1h-1v2h-1v1h-1v4h-1v-1h-1v1h-2v-1h-1v1h-1v-1h-1v1h-2v-1h-1v2h-1v-1h-1v-3h-1v-2h-1v1h-2v4h-1v-1h-1v1h-1v1h-1v-1h-1v-2h-1v1h-1v-1h-1v2h-2v-1h-2v-1h-1v3h-1v-1h-1v-1h-1v1h-3v1h-1v-2h-1v1h-3v-1h-1v-5h-3v7h-1v-1h-5v1h-1v-5h-2v-1h-1v6h-1v-2h-1v1h-3v1h-1v-1h-2v1h-1v-1h-3v-1h-1v1h-2v-3h-2v1h-1v2h-1v-5h-1v1h-1v-2h-1v6h-1v-1h-2v1h-1v1h-1v-1h-3v-5h-1v-1h-2v1h-1v-1h-1v6h-1v1h-1v-1h-3v1h-1v-1h-2v-4h-1v-1h-1v1h-1v5h-1v-1h-3v-1h-1v1h-5v-1h-1v1h-2v1h-2v-6h-1v1h-1v-1h-1v-1h-3v7h-3v-1h-5v1h-1v-1h-1v-1h-1v2h-1v-1h-5v-2h-4v-1h-1v2h-1v2h-1v-1h-5v-5h-1v-1h-1v1h-1v4h-1v1h-2v-5h-1v-1h-1v1h-1v6h-1v-1h-1v1h-3v-2h-1v-4h-1v1h-2v4h-2v-4h-3v4h-3v-6h-1v1h-2v5h-4v-1h-1v1h-3v1h-1v-2h-1v2h-1v-2h-1v-4h-3v6h-1v-1h-2v-1h-1v1h-6v1h-1v-1h-2v1h-1v-2h-1v1h-2v1h-1v-1h-3v1h-1v-1h-2v-6h-2v1h-1v5h-1v-1h-5v1h-5v1h-1v-1h-2v-5h-2v-1h-1v4h-2v2h-1v1h-1v-1h-2v-3h-2v1h-1v2h-2v-1h-1v1h-1v1h-1v-1h-1v1h-1v-1h-3v-1h-1v1h-2v-4h-2v-2h-2v-1h-1v7h-7v-1h-1v1h-1v1h-2v-1h-3v1h-1v-2h-1v2h-1v-1h-1v-4h-1v1h-1v-1h-1v3h-1v1h-1v-2h-1v-1h-2v4h-2v-1h-3v1h-1v-1h-1v-1h-1v1h-2v-1h-1v2h-1v-2h-1v1h-2v1h-1v-2h-1v1h-1v-4h-3v3h-1v1h-1v-1h-1v1h-1v1h-1v-1h-1v-1h-1v1h-2v1h-1v-2h-1v1h-8v-4h-3v4h-1v1h-2v-1h-1v-1h-1v1h-2v-1h-1v-3h-1v1h-1v-1h-1v4h-1v1h-1v-1h-1v1h-1v-1h-6v1h-1v-1h-4v1h-1v-6h-1v1h-1v-1h-1v4h-1v-1h-1v-1h-2v2h-1v2h-1v-1h-4v1h-3v-6h-1v-1h-3v7h-1v-1h-1v-1h-1v1h-1v1h-2v-2h-1v1h-1v-1h-1v1h-2v-1h-1v2h-2v-1h-4v1h-1v-1h-1v-4h-1v1h-1v-3h-3v7h-1v-1h-2v-1h-1v2h-3v-4h-2v-1h-1v4h-1v1h-1v-5h-1v1h-1v-1h-1v4h-1v-1h-1v2h-1v-1h-7v-5h-1v1h-1v-1h-1v6h-1v-1h-2v-1h-1v1h-6v1h-1v-4h-1v-1h-1v-1h-2v-1h-1v1h-2v1h-1v4h-10v-3h-3v3h-1v-1h-2v2h-1v-1h-1v-4h-3v4h-1v1h-1v-1h-4v1h-1v-1h-1v-1h-1v2h-1v-1h-1v1h-1v-1h-5v-1h-1v2h-1v-1h-3v-1h-1v-4h-1v-2h-1v1h-1v7h-1v-1h-3v-1h-2v1h-8v-1h-2v1h-1v-4h-5v-1h-1v2h-1v1h-1v-1h-1v4h-1v-2h-1v1h-3v1h-1v-1h-3v-1h-1v1h-1v-5h-1v1h-1v-2h-1v5h-1v-3h-1v1h-1v-1h-1v4h-1v-1h-1v-2h-2v-1h-1v3h-1v2h-2v-3h-1v1h-1v-1h-1v3h-1v-1h-1v-1h-1v1h-2v1h-1v-1h-5v-4h-2v1h-1v3h-5v-1h-1v1h-1v-1h-1v1h-6v1h-2v-1h-1v1h-1v-1h-2v-1h-1v1h-4v-1h-2v1h-2v1h-1v-1h-2v-1h-1v1h-1v1h-2v-2h-2v-2h-1v3h-4v1h-1v-1h-5v-1h-1v2h-1v-1h-4v-4h-2v1h-1v-1h-1v1h-1v-1h-1v5h-1v-1h-1v-1h-1v1h-3v-1h-2v1h-1v-5h-1v-1h-3v-1h-1v1h-1v7h-1v-1h-2v1h-1v-1h-7v1h-1v-2h-1v1h-4v1h-1v-7h-3v6h-2v-1h-1v1h-4v-5h-1v-1h-2v6h-1v1h-1v-1h-3v-6h-2v1h-1v4h-1v1h-1v-1h-3v2h-2v-2h-1v1h-1v-1h-1v1h-1v-1h-2v2h-1v-2h-2v1h-6v1h-1v-1h-5v1h-1v-2h-1v1h-8v1h-4v-1h-3v-1h-1v1h-4v1h-1v-3h-1v-1h-1v2h-1v1h-1v-1h-1v1h-2v-1h-1v1h-1v-1h-1v-5h-3v6h-1v-3h-1v1h-1v1h-1v1h-1v-1h-1v1h-1v1h-1v-5h-2v-1h-1v4h-2v1h-2v-3h-1v1h-1v-2h-1v4h-3v-1h-1v1h-3v1h-1v-1h-2v-3h-2v-1h-1v1h-1v-1h-1v-2h-1v1h-1v-1h-1v2h-3v5h-1v-1h-1v1h-1v-2h-1v2h-2v-2h-1v1h-7v-1h-1v1h-9v-1h-1v1h-1v1h-1v-2h-2v2h-2v-1h-8v-1h-1v2h-1v-1h-3v-3h-2v1h-1v-3h-1v1h-1v-1h-1v6h-1v-2h-1v1h-3v-2h-1v-3h-1v1h-1v-1h-1v4h-1v1h-4v-1h-1v1h-2v-3h-1v-1h-1v-2h-3v2h-2v4h-7v-1h-1v1h-1v1h-1v-1h-2v1h-1v-1h-1v-1h-1v1h-9v-1h-2v1h-2v1h-1v-1h-2v-1h-2v1h-2v-5h-1v1h-2v5h-1v-1h-2v-1h-2v1h-2v1h-1v-1h-2v-3h-2v1h-1v2h-2v-6h-1v1h-1v-1h-1v7h-2v-5h-2v-1h-1v5h-2v-2h-1v-1h-1v1h-1v2h-4v-1h-2v1h-1v1h-1v-1h-1v1h-1v-1h-3v-6h-1v1h-2v2h-2v2h-1v1h-1v1h-1v-2h-1v1h-1v-5h-3v4h-1v2h-1v-2h-1v1h-8v-2h-1v-1h-1v-1h-1v5h-1v-8h-1v1h-2v6h-2v1h-1v-1h-4v1h-1v-2h-1v1h-1v-1h-1v1h-1v1h-2v-1h-1v-1h-1v1h-3v-3h-1v1h-1v-1h-1v3h-3v1h-2v-2h-1v1h-1v1h-1v-1h-1v-6h-3v7h-1v-2h-1v1h-2v1h-1v-1h-1v1h-1v-5h-2v-1h-1v5h-9v1h-2v-3h-1v-1h-2v2h-2v1h-2v1h-1v-1h-2v-4h-1v1h-2v3h-1v1h-1v-1h-1v-4h-1v-1h-2v6h-1v-1h-1v1h-1v-2h-1v1h-2v-5h-3v5h-1v1h-1v-1h-1v1h-1v-6h-1v-2h-1v1h-2v6h-3v-1h-1v1h-3v-1h-1v1h-3v-1h-1v2h-1v-1h-5v-7h-1v2h-1v-2h-1v1h-3v1h-1v5h-1v-6h-1v1h-2v6h-1v-1h-2v1h-1v-1h-1v-1h-2v1h-1v-1h-1v1h-2v-1h-1v1h-5v-1h-1v1h-2v-1h-1v1h-4v1h-1v-1h-1v-1h-1v1h-2v1h-2v-1h-4v-1h-1v1h-1v1h-1v-5h-2v1h-1v3h-2v1h-1v-2h-1v2h-1v-2h-1v1h-1v-6h-1v1h-1v-2h-1v7h-5v1h-1v-2h-1v1h-1v-1h-1v1h-1v1h-1v-1h-3v-1h-1v1Z"/>
<path fill="#ff0" d="M188 1381V1225h4v4h1v1h1v-7h4v6h1v1h1v-3h1v-10h1v1h1v-1h1v1h1v8h4v4h1v-3h1v-1h1v1h1v1h1v2h1v-2h1v-1h1v-10h1v-1h2v-1h1v-8h1v-7h1v-4h4v-154h5v183h3v1h1v2h2v-1h1v-1h1v1h1v-1h1v-166h5v167h1v1h2v-1h4v2h1v-2h2v1h1v-4h1v1h1v-1h2v3h2v1h3v3h1v-5h3v-4h1v1h2v1h1v4h2v-1h4v-1h1v7h1v-11h1v1h3v8h1v-1h1v-2h2v1h2v4h1v-2h1v-2h1v-1h1v-3h3v-1h1v2h1v-77h5v78h1v1h3v-2h3v2h1v-1h2v1h1v-65h5v59h1v-56h5v57h2v-1h1v1h1v9h2v-2h2v2h2v-1h1v-40h5v34h1v-1h1v7h3v-1h2v1h1v-1h1v1h1v-3h4v2h1v-1h3v-1h2v2h3v-6h1v1h1v-1h1v1h1v4h2v-5h1v1h1v-1h1v1h1v4h1v2h2v-3h1v1h1v-1h2v-2h1v1h2v-1h1v-4h1v1h2v-1h1v5h1v-1h1v6h3v-3h1v-11h1v1h1v-16h1v-1h2v1h1v-266h5v293h1v-1h3v5h1v1h1v-2h1v-2h6v1h1v-6h1v-3h1v1h1v-2h3v1h1v7h1v1h2v-1h1v-1h1v-9h2v-1h2v9h1v-4h1v-1h2v-8h1v1h1v1h1v1h1v13h1v-7h3v-1h1v3h1v1h1v6h2v-3h2v-10h2v1h2v12h1v-3h2v-1h2v-1h2v1h1v-1h1v1h1v-90h11v-235h6v325h1v-1h1v1h1v1h1v3h2v-2h1v-1h1v-5h3v-1h1v4h1v-6h1v-173h5v182h1v-1h1v-1h1v2h1v1h1v-2h1v-2h2v-6h1v-73h4v79h3v1h3v1h1v-12h1v-1h2v1h1v10h2v2h1v1h2v-9h4v6h1v-8h1v-216h6v218h1v-1h1v2h4v-1h3v2h2v-10h2v1h2v5h2v-1h1v-1h1v1h2v-6h1v-1h1v1h2v3h1v7h2v1h2v1h2v1h1v-1h1v-1h1v-1h1v-1h1v1h1v-7h6v-3h3v1h1v2h3v1h1v1h2v-6h3v-1h1v15h1v-14h2v-1h1v1h1v1h1v1h2v1h1v7h1v-3h1v-25h6v22h1v2h1v-11h1v-1h1v-1h2v14h1v-1h1v-14h4v16h2v1h2v-1h1v-2h1v1h3v2h1v-9h1v1h3v-4h2v1h1v1h1v9h2v-1h1v-10h1v1h3v2h1v1h1v1h1v9h1v-1h1v-3h1v1h2v1h1v2h1v-4h1v-1h1v1h1v-1h1v1h1v3h1v-3h1v-3h1v-1h2v-1h1v9h1v-15h2v-1h2v13h1v-10h4v13h1v-2h1v-4h4v2h1v2h1v-1h3v-5h4v-2h1v-1h1v-4h1v1h3v8h1v-2h2v-2h1v-3h1v-15h1v-11h5v11h1v17h2v1h1v1h1v4h1v-1h2v5h3v4h1v-1h1v-6h2v-2h3v-4h2v-1h1v1h1v2h2v6h1v2h1v-4h2v-7h4v5h1v1h3v1h1v-1h1v1h2v1h4v-2h1v-1h1v-1h1v1h1v3h1v-1h1v-3h2v1h1v-2h1v4h1v-7h1v-1h2v1h1v1h1v-1h1v1h1v7h2v-2h1v-4h3v1h1v7h1v-17h1v-1h1v-1h2v2h3v-1h1v16h2v-10h3v1h1v8h2v1h1v-3h2v-8h3v-1h1v8h2v-7h3v-1h1v-11h1v-17h5v7h1v25h1v10h2v1h2v-6h4v-4h1v-1h1v1h2v4h1v3h1v-17h1v-26h6v26h1v17h1v1h1v3h1v-1h1v-2h2v-11h1v-1h2v-1h2v17h2v-1h2v-1h2v3h1v-5h1v-4h1v-3h3v-2h1v2h1v1h1v2h2v-1h2v2h2v2h2v-2h1v-2h2v-48h1v-33h6v22h1v51h1v-6h5v4h1v9h1v-8h4v13h1v1h1v-3h3v-1h2v2h1v-4h2v-1h1v-1h1v-7h1v1h2v-1h1v15h3v-4h3v1h1v-1h2v-1h1v-8h1v1h2v-1h1v5h1v1h1v-5h1v1h3v-2h1v1h1v2h1v-1h1v2h1v7h1v-1h2v-1h1v-1h1v-2h1v-1h2v-1h2v1h1v-8h1v-24h1v-7h5v10h1v8h1v1h1v1h1v-5h1v-77h1v-30h5v46h1v65h3v-2h1v9h1v-1h1v-7h2v1h1v-37h1v-26h5v18h1v44h1v10h1v1h1v-3h1v-8h1v1h2v-1h1v9h1v-43h1v-26h6v17h1v43h1v-1h1v-1h1v-5h1v-38h1v-7h5v-57h1v-8h6v28h4v20h1v69h1v16h1v2h1v-1h1v-28h1v-11h5v17h1v23h1v-1h4v6h1v-2h1v1h1v-13h2v-8h1v-9h5v9h1v18h1v1h1v-1h2v6h2v1h1v-3h1v-2h1v1h2v-4h2v-10h1v-38h1v-8h7v31h1v28h1v1h2v-6h3v1h1v4h1v1h1v9h2v-1h1v-6h2v-1h1v-4h2v1h1v-1h1v2h1v-1h2v1h2v6h3v-15h1v1h1v-1h2v16h2v2h1v-3h2v-5h2v1h1v-1h1v7h1v-8h1v-1h1v1h2v6h1v-4h1v-5h2v-1h2v5h1v-1h1v3h1v-2h1v-6h4v-1h2v1h1v13h2v-12h4v12h2v-4h1v1h1v-8h2v-2h2v6h1v-1h1v2h1v1h1v-1h2v6h1v-1h1v1h4v-6h1v-9h3v-1h1v10h2v4h2v-9h4v4h1v-6h3v1h1v-1h1v1h2v13h1v-1h1v1h2v-2h1v-12h2v1h2v9h1v2h1v1h1v-1h2v-16h2v1h1v1h1v12h1v1h2v-5h1v1h5v1h1v2h1v-1h1v6h2v-3h1v-1h1v1h2v-7h1v-1h1v1h1v-1h1v5h1v1h1v-1h1v5h3v1h1v-4h1v-1h1v1h1v-1h3v-7h4v4h3v2h1v-4h1v1h1v-4h1v-1h3v6h2v1h1v-1h4v-1h1v2h1v3h1v-1h1v1h1v-2h3v-5h2v-1h1v1h2v1h1v-1h1v1h1v2h1v-1h1v1h2v1h1v2h2v-1h2v-1h1v-1h1v4h3v2h2v-11h4v8h2v2h1v1h2v-9h2v-1h1v1h3v7h2v1h1v-1h2v1h1v-4h3v-1h1v-3h3v-1h1v10h1v-5h1v-3h1v-1h1v1h1v-1h1v4h1v-1h2v8h1v-3h1v1h1v-1h1v-4h1v-4h1v1h1v1h1v-1h1v3h1v3h1v2h1v-4h1v1h1v1h1v-3h1v-1h2v-1h2v5h1v-1h1v1h1v1h1v-1h2v-1h1v-13h1v-1h3v9h2v1h1v-3h1v-7h3v1h1v4h1v1h1v4h1v1h1v2h1v-3h4v3h1v-21h1v-10h5v10h1v17h1v-6h1v-1h2v-1h1v12h3v2h1v-5h3v-1h2v1h3v2h2v2h2v1h1v-4h1v-1h1v1h1v1h1v-8h1v1h1v1h2v13h1v-7h3v2h1v-9h1v-1h2v1h1v11h1v-1h2v-4h2v-1h2v4h1v-1h1v-8h3v-1h1v9h1v-22h1v-11h5v7h1v18h1v-7h4v16h1v-2h1v-1h2v-1h1v-1h1v-1h1v1h2v-2h1v-4h2v1h1v1h1v3h1v-6h2v-1h1v1h2v2h2v7h1v-11h1v-4h1v-73h1v-29h6v40h1v-14h5v30h1v28h5v11h1v4h1v1h1v1h2v2h1v-1h1v5h1v-3h1v-1h1v1h1v1h1v2h1v2h1v1h1v6h3v-1h2v-2h1v-1h1v-1h1v2h2v4h1v1h2v-3h1v-1h1v1h3v3h2v-5h1v-1h1v-4h5v-4h1v-45h1v-17h5v-46h7v64h4v16h1v38h1v2h1v1h1v1h1v-3h2v1h2v-11h1v1h2v1h1v10h1v1h2v-4h1v-1h1v-1h2v3h1v-1h1v5h1v-7h2v1h2v5h2v-4h2v-2h1v-23h1v-7h5v16h1v15h2v4h1v-1h1v1h1v-1h2v1h1v-1h1v2h1v1h1v1h1v1h1v-8h4v8h1v-4h2v1h1v-1h1v1h1v-1h2v1h2v1h2v4h1v-4h2v-2h3v-1h1v-1h2v3h2v-2h1v-1h1v1h1v-1h1v2h1v-1h4v1h1v-1h1v-1h2v1h1v-7h1v1h2v1h1v6h1v1h1v-2h1v-1h3v4h1v1h1v1h3v-4h1v1h2v-1h1v-7h1v1h2v1h1v10h1v1h1v-4h1v-1h1v2h2v3h1v-11h2v-2h2v13h1v-5h1v-3h1v1h2v-1h1v4h1v1h1v2h1v-1h1v2h2v-3h1v1h1v-5h1v-1h2v-1h1v-7h2v1h1v1h1v14h2v1h1v-8h3v1h1v-1h2v5h1v-3h1v-1h1v2h1v-1h1v2h1v-6h4v-2h2v1h1v1h1v4h1v-5h3v1h1v-1h1v2h1v-1h1v3h2v-11h3v-1h1v14h1v-1h1v1h1v1h1v-5h1v-2h2v-1h3v1h1v-5h2v1h1v1h1v5h1v6h3v-5h3v-6h1v1h3v9h1v-1h1v-1h1v1h3v5h1v1h1v-4h1v-1h1v-1h2v1h2v2h1v-3h1v-1h1v-1h3v-1h1v-4h1v2h1v-1h1v1h3v1h1v1h3v1h1v2h1v1h1v-2h2v-4h6v-1h1v10h1v-8h1v-1h1v1h1v-2h4v5h2v1h1v-1h1v1h1v-2h1v-2h4v8h1v1h2v1h1v-13h2v-2h2v5h1v-1h1v-5h1v1h1v1h2v1h1v5h1v-3h1v1h3v4h1v1h4v3h1v-3h1v1h1v-2h1v-1h1v1h1v-4h1v-1h2v-1h1v4h1v-1h1v3h1v-7h1v-1h2v1h1v2h3v-1h1v1h1v-1h1v2h2v-1h1v2h1v-1h2v-1h1v1h1v-1h1v1h1v5h1v-5h1v-1h2v2h1v3h2v-4h4v8h1v-5h1v-6h1v1h2v-1h1v14h1v-8h2v-1h1v-9h2v1h2v17h1v-1h1v-3h1v-1h1v-1h1v-1h1v-10h3v-1h1v13h1v-7h2v2h1v-1h1v2h1v-1h2v-5h3v1h1v4h1v-3h1v1h1v-3h1v1h2v1h1v-8h2v1h2v10h1v-1h1v1h1v1h3v3h2v1h1v1h1v-3h3v2h1v-5h1v-1h1v1h1v-1h1v1h1v-5h3v1h1v4h2v-2h1v1h2v3h1v1h1v1h1v2h1v-1h1v-3h3v1h1v2h2v-1h1v3h1v-1h1v3h2v-3h1v-2h3v-1h2v-2h1v1h1v1h1v1h1v-2h1v1h2v-5h4v5h1v5h1v-1h1v-6h4v4h1v1h1v1h1v-3h4v5h1v-5h2v-1h2v1h1v-1h1v1h1v-1h1v1h1v-1h3v-5h3v1h1v1h2v6h1v1h1v-1h1v-1h1v-2h1v1h3v3h3v-11h2v-1h2v1h1v3h2v-1h1v6h2v-1h2v6h1v-4h2v-1h1v-5h1v-1h1v-2h2v-1h2v2h2v1h1v8h1v-2h1v1h1v-6h2v-2h1v1h1v1h2v6h1v5h2v-5h2v-1h3v-19h2v-1h2v19h1v1h1v-1h1v-3h1v-12h1v2h3v3h1v12h1v1h4v1h2v-3h1v-1h3v3h1v1h1v-1h1v-11h4v4h1v3h4v1h2v1h1v-3h1v1h3v-3h2v1h2v5h2v-1h1v-1h1v2h1v4h1v-1h1v-2h1v-1h4v-2h1v-1h1v1h2v-1h2v-2h4v2h1v-1h1v-4h1v1h2v-1h1v10h1v2h1v-10h2v1h2v2h1v-2h2v-2h1v1h1v-3h4v14h1v-7h1v-1h3v-4h5v1h1v2h1v1h1v1h1v1h1v2h1v-1h1v-2h1v1h2v-3h2v1h2v-1h4v4h1v-1h2v2h1v-1h1v-1h2v3h2v1h4v-4h1v-1h2v1h1v1h1v1h2v-1h1v3h1v-7h1v-1h2v-1h1v7h3v-3h1v-1h1v1h3v-1h1v-7h4v9h1v-1h1v3h1v-5h4v-8h1v1h2v-1h1v10h1v-1h1v-10h1v1h1v-1h1v1h1v13h2v-2h2v-2h1v-1h2v1h5v5h1v1h1v1h1v-2h2v-9h2v-2h2v1h2v10h3v-5h4v5h1v2h1V1380h-1v2h-1v-1h-2v-1h-1v1h-1v1h-1v-1h-1v-4h-3v3h-1v1h-3v1h-1v-4h-1v1h-1v-2h-1v4h-1v1h-1v-1h-2v1h-1v-1h-3v1h-1v-1h-2v1h-2v-1h-6v1h-3v-1h-1v-1h-1v1h-1v1h-1v-1h-1v1h-2v-1h-2v-2h-1v-1h-1v-1h-1v3h-1v-1h-3v2h-1v1h-1v-1h-4v-1h-1v2h-1v-2h-2v1h-1v-1h-1v-5h-3v7h-2v-1h-3v1h-1v-1h-2v-1h-2v1h-13v1h-1v-1h-3v1h-1v-1h-2v1h-1v-1h-2v-1h-1v1h-4v-1h-1v1h-2v-3h-1v-2h-1v1h-1v-1h-1v6h-1v-1h-2v-1h-2v1h-1v-4h-1v1h-2v-3h-1v1h-1v-1h-1v7h-1v-1h-2v-1h-1v1h-3v-1h-2v1h-2v-1h-1v1h-2v1h-1v-1h-5v-5h-1v-2h-2v8h-1v-1h-1v1h-1v-1h-1v-6h-1v1h-1v-1h-1v6h-2v-4h-2v1h-1v3h-2v-6h-1v-1h-2v6h-1v1h-4v-1h-1v1h-1v-1h-1v-5h-1v1h-1v-2h-1v7h-1v1h-1v-1h-1v-1h-1v1h-1v-1h-1v1h-3v-5h-1v-1h-1v1h-1v1h-1v4h-3v-3h-3v4h-1v-1h-4v-1h-1v1h-2v-1h-1v2h-1v-1h-9v1h-1v-3h-2v-1h-1v3h-6v1h-1v-1h-1v1h-1v-2h-1v1h-2v-1h-1v1h-1v1h-1v-7h-2v1h-1v4h-1v1h-2v-1h-1v1h-1v1h-1v-2h-1v1h-6v1h-1v-1h-3v-1h-1v1h-3v-1h-1v2h-1v-1h-2v-1h-1v1h-4v-1h-1v1h-5v1h-3v-2h-1v1h-3v-4h-1v2h-1v-1h-1v3h-1v-1h-1v-4h-1v1h-1v-3h-1v2h-1v-1h-1v1h-1v3h-1v-1h-1v1h-1v2h-1v1h-1v-1h-1v-1h-1v-1h-1v-1h-1v-1h-3v4h-2v1h-1v-1h-1v-1h-2v1h-3v-5h-1v1h-1v-1h-1v1h-1v-1h-1v4h-1v1h-1v1h-1v-1h-1v-1h-1v1h-1v-2h-1v1h-1v-1h-1v3h-2v-1h-1v-1h-1v2h-1v-2h-1v-3h-1v2h-1v-2h-1v2h-1v-1h-1v4h-1v-1h-5v1h-1v-3h-3v2h-2v-1h-1v-6h-1v2h-2v5h-10v1h-1v-1h-2v1h-1v-2h-1v1h-2v-5h-1v-2h-1v2h-3v1h-1v4h-2v-1h-1v1h-4v-1h-1v1h-1v1h-2v-1h-3v-4h-2v-1h-1v5h-2v-5h-3v5h-1v-2h-2v1h-2v1h-2v-6h-3v5h-1v1h-1v1h-1v-1h-2v-1h-1v1h-1v1h-1v-7h-2v-1h-1v7h-1v-1h-2v2h-2v-1h-2v1h-1v-4h-1v-1h-2v4h-1v-1h-3v1h-1v1h-2v-1h-1v-5h-3v4h-1v1h-1v-4h-1v-1h-2v4h-1v1h-5v-1h-1v1h-2v-1h-4v-1h-1v2h-2v1h-1v-1h-1v-1h-2v2h-1v-2h-1v2h-1v-1h-1v1h-1v-2h-1v1h-4v1h-1v-5h-1v-1h-1v1h-1v4h-1v-2h-1v-1h-2v3h-5v-3h-2v1h-1v-2h-1v1h-3v-2h-1v6h-2v-2h-1v-2h-1v1h-1v-4h-1v1h-1v-1h-1v7h-2v-1h-1v-1h-2v1h-1v1h-1v-5h-1v1h-1v-1h-1v4h-2v-1h-1v1h-2v-5h-1v-1h-1v1h-1v4h-1v1h-1v-1h-1v1h-1v1h-1v-1h-2v-1h-1v1h-2v-1h-1v1h-1v-1h-1v1h-2v-1h-1v-3h-2v-1h-1v3h-1v2h-5v1h-1v-2h-2v2h-1v-2h-1v1h-1v1h-1v-2h-1v1h-2v1h-1v-2h-1v1h-7v-5h-1v1h-1v1h-1v-3h-1v1h-1v-2h-1v8h-1v-1h-1v-6h-1v1h-1v1h-1v4h-2v-1h-1v1h-3v-4h-3v3h-1v1h-2v1h-1v-1h-3v-1h-1v1h-4v1h-1v-1h-1v1h-1v-1h-2v-4h-1v-2h-1v2h-1v4h-3v1h-1v-4h-3v4h-1v-2h-1v-5h-1v2h-2v4h-1v-2h-1v-1h-1v2h-1v1h-1v-1h-1v1h-1v1h-1v-1h-2v-1h-1v1h-3v-1h-1v1h-1v1h-2v-2h-1v1h-1v1h-2v-1h-2v1h-1v-2h-1v1h-3v1h-2v-1h-3v1h-1v-1h-1v-1h-1v1h-3v1h-1v-4h-1v-1h-2v3h-1v1h-1v1h-1v-1h-1v-1h-1v1h-1v-7h-1v2h-1v-1h-1v5h-1v2h-1v-3h-2v-4h-2v1h-1v6h-2v-1h-5v1h-1v-1h-5v-1h-2v1h-1v1h-1v-1h-5v-5h-3v4h-1v2h-2v-1h-4v-3h-1v1h-2v-1h-1v-1h-1v1h-1v3h-3v-2h-1v1h-1v-2h-1v3h-2v1h-1v-1h-1v1h-1v-1h-2v-1h-1v1h-1v-3h-3v2h-1v1h-2v1h-1v-1h-1v-1h-1v-3h-1v1h-1v1h-1v2h-3v-1h-1v1h-2v-1h-2v2h-2v-2h-1v1h-3v-1h-1v2h-1v-2h-1v1h-2v1h-2v-1h-2v1h-1v-1h-4v-5h-1v1h-2v5h-1v-1h-1v-1h-1v2h-1v-1h-1v1h-2v-1h-3v-1h-1v2h-1v-3h-1v-2h-1v1h-1v3h-1v-5h-1v-1h-1v2h-1v1h-3v3h-2v-3h-3v2h-1v1h-2v-1h-1v1h-3v-5h-2v-1h-1v6h-1v1h-2v-2h-1v1h-1v-5h-2v1h-1v3h-1v1h-3v1h-1v-2h-1v1h-2v-2h-1v-1h-1v1h-1v2h-2v1h-1v-1h-1v-2h-1v-1h-1v-1h-1v4h-1v-1h-2v1h-2v-5h-1v1h-2v4h-2v1h-2v-2h-2v1h-3v1h-2v-1h-1v-4h-1v1h-1v-1h-1v3h-1v1h-1v1h-1v-1h-4v-1h-1v1h-1v1h-1v-2h-1v2h-2v-1h-6v-1h-1v1h-2v-4h-1v1h-2v4h-1v-1h-10v-4h-1v-1h-3v5h-3v-1h-1v1h-4v-6h-3v7h-1v-1h-2v-1h-1v1h-5v-1h-1v1h-9v1h-1v-2h-1v2h-2v-1h-1v1h-1v-1h-2v-1h-1v1h-6v-1h-1v1h-4v-6h-1v-1h-1v2h-1v1h-1v4h-1v-1h-1v1h-2v-1h-1v1h-1v-1h-1v1h-2v-1h-1v2h-1v-1h-1v-3h-1v-2h-1v1h-2v4h-1v-1h-1v1h-1v1h-1v-1h-1v-2h-1v1h-1v-1h-1v2h-2v-1h-2v-1h-1v3h-1v-1h-1v-1h-1v1h-3v1h-1v-2h-1v1h-3v-1h-1v-5h-3v7h-1v-1h-5v1h-1v-5h-2v-1h-1v6h-1v-2h-1v1h-3v1h-1v-1h-2v1h-1v-1h-3v-1h-1v1h-2v-3h-2v1h-1v2h-1v-5h-1v1h-1v-2h-1v6h-1v-1h-2v1h-1v1h-1v-1h-3v-5h-1v-1h-2v1h-1v-1h-1v6h-1v1h-1v-1h-3v1h-1v-1h-2v-4h-1v-1h-1v1h-1v5h-1v-1h-3v-1h-1v1h-5v-1h-1v1h-2v1h-2v-6h-1v1h-1v-1h-1v-1h-3v7h-3v-1h-5v1h-1v-1h-1v-1h-1v2h-1v-1h-5v-2h-4v-1h-1v2h-1v2h-1v-1h-5v-5h-1v-1h-1v1h-1v4h-1v1h-2v-5h-1v-1h-1v1h-1v6h-1v-1h-1v1h-3v-2h-1v-4h-1v1h-2v4h-2v-4h-3v4h-3v-6h-1v1h-2v5h-4v-1h-1v1h-3v1h-1v-2h-1v2h-1v-2h-1v-4h-3v6h-1v-1h-2v-1h-1v1h-6v1h-1v-1h-2v1h-1v-2h-1v1h-2v1h-1v-1h-3v1h-1v-1h-2v-6h-2v1h-1v5h-1v-1h-5v1h-5v1h-1v-1h-2v-5h-2v-1h-1v4h-2v2h-1v1h-1v-1h-2v-3h-2v1h-1v2h-2v-1h-1v1h-1v1h-1v-1h-1v1h-1v-1h-3v-1h-1v1h-2v-4h-2v-2h-2v-1h-1v7h-7v-1h-1v1h-1v1h-2v-1h-3v1h-1v-2h-1v2h-1v-1h-1v-4h-1v1h-1v-1h-1v3h-1v1h-1v-2h-1v-1h-2v4h-2v-1h-3v1h-1v-1h-1v-1h-1v1h-2v-1h-1v2h-1v-2h-1v1h-2v1h-1v-2h-1v1h-1v-4h-3v3h-1v1h-1v-1h-1v1h-1v1h-1v-1h-1v-1h-1v1h-2v1h-1v-2h-1v1h-8v-4h-3v4h-1v1h-2v-1h-1v-1h-1v1h-2v-1h-1v-3h-1v1h-1v-1h-1v4h-1v1h-1v-1h-1v1h-1v-1h-6v1h-1v-1h-4v1h-1v-6h-1v1h-1v-1h-1v4h-1v-1h-1v-1h-2v2h-1v2h-1v-1h-4v1h-3v-6h-1v-1h-3v7h-1v-1h-1v-1h-1v1h-1v1h-2v-2h-1v1h-1v-1h-1v1h-2v-1h-1v2h-2v-1h-4v1h-1v-1h-1v-4h-1v1h-1v-3h-3v7h-1v-1h-2v-1h-1v2h-3v-4h-2v-1h-1v4h-1v1h-1v-5h-1v1h-1v-1h-1v4h-1v-1h-1v2h-1v-1h-7v-5h-1v1h-1v-1h-1v6h-1v-1h-2v-1h-1v1h-6v1h-1v-4h-1v-1h-1v-1h-2v-1h-1v1h-2v1h-1v4h-10v-3h-3v3h-1v-1h-2v2h-1v-1h-1v-4h-3v4h-1v1h-1v-1h-4v1h-1v-1h-1v-1h-1v2h-1v-1h-1v1h-1v-1h-5v-1h-1v2h-1v-1h-3v-1h-1v-4h-1v-2h-1v1h-1v7h-1v-1h-3v-1h-2v1h-8v-1h-2v1h-1v-4h-5v-1h-1v2h-1v1h-1v-1h-1v4h-1v-2h-1v1h-3v1h-1v-1h-3v-1h-1v1h-1v-5h-1v1h-1v-2h-1v5h-1v-3h-1v1h-1v-1h-1v4h-1v-1h-1v-2h-2v-1h-1v3h-1v2h-2v-3h-1v1h-1v-1h-1v3h-1v-1h-1v-1h-1v1h-2v1h-1v-1h-5v-4h-2v1h-1v3h-5v-1h-1v1h-1v-1h-1v1h-6v1h-2v-1h-1v1h-1v-1h-2v-1h-1v1h-4v-1h-2v1h-2v1h-1v-1h-2v-1h-1v1h-1v1h-2v-2h-2v-2h-1v3h-4v1h-1v-1h-5v-1h-1v2h-1v-1h-4v-4h-2v1h-1v-1h-1v1h-1v-1h-1v5h-1v-1h-1v-1h-1v1h-3v-1h-2v1h-1v-5h-1v-1h-3v-1h-1v1h-1v7h-1v-1h-2v1h-1v-1h-7v1h-1v-2h-1v1h-4v1h-1v-7h-3v6h-2v-1h-1v1h-4v-5h-1v-1h-2v6h-1v1h-1v-1h-3v-6h-2v1h-1v4h-1v1h-1v-1h-3v2h-2v-2h-1v1h-1v-1h-1v1h-1v-1h-2v2h-1v-2h-2v1h-6v1h-1v-1h-5v1h-1v-2h-1v1h-8v1h-4v-1h-3v-1h-1v1h-4v1h-1v-3h-1v-1h-1v2h-1v1h-1v-1h-1v1h-2v-1h-1v1h-1v-1h-1v-5h-3v6h-1v-3h-1v1h-1v1h-1v1h-1v-1h-1v1h-1v1h-1v-5h-2v-1h-1v4h-2v1h-2v-3h-1v1h-1v-2h-1v4h-3v-1h-1v1h-3v1h-1v-1h-2v-3h-2v-1h-1v1h-1v-1h-1v-2h-1v1h-1v-1h-1v2h-3v5h-1v-1h-1v1h-1v-2h-1v2h-2v-2h-1v1h-7v-1h-1v1h-9v-1h-1v1h-1v1h-1v-2h-2v2h-2v-1h-8v-1h-1v2h-1v-1h-3v-3h-2v1h-1v-3h-1v1h-1v-1h-1v6h-1v-2h-1v1h-3v-2h-1v-3h-1v1h-1v-1h-1v4h-1v1h-4v-1h-1v1h-2v-3h-1v-1h-1v-2h-3v2h-2v4h-7v-1h-1v1h-1v1h-1v-1h-2v1h-1v-1h-1v-1h-1v1h-9v-1h-2v1h-2v1h-1v-1h-2v-1h-2v1h-2v-5h-1v1h-2v5h-1v-1h-2v-1h-2v1h-2v1h-1v-1h-2v-3h-2v1h-1v2h-2v-6h-1v1h-1v-1h-1v7h-2v-5h-2v-1h-1v5h-2v-2h-1v-1h-1v1h-1v2h-4v-1h-2v1h-1v1h-1v-1h-1v1h-1v-1h-3v-6h-1v1h-2v2h-2v2h-1v1h-1v1h-1v-2h-1v1h-1v-5h-3v4h-1v2h-1v-2h-1v1h-8v-2h-1v-1h-1v-1h-1v5h-1v-8h-1v1h-2v6h-2v1h-1v-1h-4v1h-1v-2h-1v1h-1v-1h-1v1h-1v1h-2v-1h-1v-1h-1v1h-3v-3h-1v1h-1v-1h-1v3h-3v1h-2v-2h-1v1h-1v1h-1v-1h-1v-6h-3v7h-1v-2h-1v1h-2v1h-1v-1h-1v1h-1v-5h-2v-1h-1v5h-9v1h-2v-3h-1v-1h-2v2h-2v1h-2v1h-1v-1h-2v-4h-1v1h-2v3h-1v1h-1v-1h-1v-4h-1v-1h-2v6h-1v-1h-1v1h-1v-2h-1v1h-2v-5h-3v5h-1v1h-1v-1h-1v1h-1v-6h-1v-2h-1v1h-2v6h-3v-1h-1v1h-3v-1h-1v1h-3v-1h-1v2h-1v-1h-5v-7h-1v2h-1v-2h-1v1h-3v1h-1v5h-1v-6h-1v1h-2v6h-1v-1h-2v1h-1v-1h-1v-1h-2v1h-1v-1h-1v1h-2v-1h-1v1h-5v-1h-1v1h-2v-1h-1v1h-4v1h-1v-1h-1v-1h-1v1h-2v1h-2v-1h-4v-1h-1v1h-1v1h-1v-5h-2v1h-1v3h-2v1h-1v-2h-1v2h-1v-2h-1v1h-1v-6h-1v1h-1v-2h-1v7h-5v1h-1v-2h-1v1h-1v-1h-1v1h-1v1h-1v-1h-3v-1h-1v1Z"/>
<rect x="900" y="1241" width="8" height="146.0" fill="#fff"/>
<rect x="900" y="1186" width="2" height="60" fill="#fff"/>
<path fill="#00f" d="M188 1381V1252h1v-1h3v-1h1v-1h1v1h1v-5h2v13h1v-1h1v9h1v22h1v2h2v-1h1v3h2v-2h2v1h1v1h1v-26h1v-8h1v-9h2v-5h1v-1h2v-1h1v2h1v-8h1v-3h1v-8h1v-9h1v-4h4v4h1v9h1v8h1v9h1v4h1v-6h1v-1h1v1h1v1h1v4h1v-1h2v-1h2v1h1v-6h3v1h1v7h1v-2h1v4h3v-5h1v1h1v-5h4v11h2v15h1v3h1v-15h1v-5h1v-11h3v1h1v11h1v-1h2v4h1v12h1v26h1v-1h1v-2h3v-23h1v-12h1v-4h2v-3h1v-5h1v-1h1v-1h1v1h1v2h1v2h2v8h2v4h1v-11h1v-1h1v-1h1v2h1v8h1v-4h1v1h1v-1h1v-1h1v-1h1v1h1v-2h2v-1h1v2h1v1h1v4h1v8h1v-4h1v-9h2v1h2v6h1v14h1v23h1v1h1v2h2v-1h1v1h2v-26h1v-14h1v-5h1v2h1v-3h1v1h2v1h1v-1h3v-1h1v1h1v5h1v2h2v-1h2v11h2v-23h2v1h1v1h1v9h4v-5h1v-1h1v-3h1v8h1v12h1v22h2v1h2v1h1v-24h1v-12h1v-1h1v-2h1v-4h2v-2h1v-6h1v1h3v8h1v-1h1v2h1v4h2v-1h1v-3h1v1h1v-1h1v-1h1v2h4v1h1v-3h1v1h1v-1h1v1h1v4h1v1h1v-8h1v-1h2v1h1v-1h1v1h1v1h2v2h1v-1h1v3h1v-55h5v98h1v-1h2v-25h1v-13h1v-9h1v-1h1v7h2v1h1v2h1v1h1v-8h2v-1h1v2h1v6h1v-1h1v-1h3v-1h1v-2h4v-1h1v-1h2v-3h1v1h1v9h1v13h1v25h1v-2h1v-2h1v1h2v-22h1v-13h1v4h2v-9h1v-4h3v1h1v6h1v-1h1v-6h1v1h1v1h1v-3h2v1h1v9h1v13h1v27h1v-2h1v-1h2v-1h1v1h1v1h1v-1h1v-1h1v-1h1v1h1v1h1v1h2v-2h1v-1h1v-22h1v-356h6v331h1v4h1v1h1v-6h2v-1h1v1h1v9h1v2h1v2h1v1h2v1h1v-2h1v-100h5v91h2v-1h1v4h1v-1h1v-2h1v2h1v1h1v3h1v-1h1v-6h2v-1h1v1h1v1h1v-1h1v2h1v-1h1v-1h3v4h1v1h1v1h1v2h1v-4h2v1h1v1h1v1h1v-2h1v2h1v-2h1v-1h2v-37h6v75h1v3h1v-1h1v-1h1v2h2v-1h2v1h1v-1h1v-24h1v-13h1v-2h1v1h1v1h1v1h1v4h1v-6h3v-1h1v-1h3v1h2v-1h1v3h1v-3h1v1h4v-5h2v-1h2v7h2v2h2v-1h2v12h1v26h1v-1h1v-3h1v2h2v-24h1v-9h1v-1h1v-1h1v-8h1v-2h2v-1h1v7h1v-7h1v-1h1v-1h1v1h1v9h1v-4h1v1h2v-1h1v1h1v-2h1v-28h6v24h1v-1h1v-2h1v-1h1v4h1v1h1v9h1v13h1v24h1v-1h1v-1h1v1h1v-23h1v-14h1v-3h1v-2h1v-1h2v-3h1v-1h1v-1h1v1h1v7h1v-8h1v-4h1v1h1v-1h1v1h1v6h1v-2h1v3h1v8h1v13h1v25h4v2h1v-2h1v-1h1v1h1v-1h1v1h1v1h2v1h1v-27h1v-14h1v-22h1v17h2v2h1v1h1v-4h1v-8h3v1h1v9h1v-1h2v1h1v-9h1v-2h1v-1h1v1h2v6h1v1h2v-1h1v-1h1v5h1v-1h1v-1h1v1h2v1h1v1h1v1h1v1h1v1h1v1h2v-1h1v-2h1v-2h3v-9h1v1h3v4h1v-1h1v2h1v1h1v7h3v1h1v-2h4v3h2v2h2v7h1v1h1v-14h1v-5h2v-2h1v-1h2v-1h1v2h1v2h1v5h1v-3h2v-4h2v1h2v5h1v-5h2v1h2v1h1v1h1v1h1v3h1v1h1v14h1v23h2v1h1v2h1v-1h1v-2h2v1h1v1h1v1h3v-2h1v-1h1v2h1v-1h1v-1h2v2h1v-25h1v-14h1v-7h1v1h1v-3h2v8h1v13h1v22h1v1h1v1h1v-24h1v-13h1v-5h1v-1h1v-1h1v-1h1v1h1v1h1v-1h1v-1h2v2h1v-2h1v1h1v7h1v-1h2v-1h4v1h1v-3h1v4h1v12h1v22h3v1h1v1h1v-24h1v-34h1v-14h5v6h1v20h1v47h1v1h1v1h1v-2h1v1h1v2h2v-2h1v-1h3v3h1v-26h1v-14h1v-17h1v-20h6v20h2v1h1v-1h1v17h1v-3h1v-1h1v1h1v-1h1v2h3v1h3v-5h2v-1h1v2h1v4h1v1h2v-7h4v2h3v1h1v-7h1v1h3v8h1v-1h1v1h1v-7h1v-32h1v-22h6v15h1v37h1V1376h-2v1h-1v4h-10v-3h-3v3h-1v-1h-2v2h-1v-1h-1v-4h-3v4h-1v1h-1v-1h-4v1h-1v-1h-1v-1h-1v2h-1v-1h-1v1h-1v-1h-5v-1h-1v2h-1v-1h-3v-1h-1v-4h-1v-2h-1v1h-1v7h-1v-1h-3v-1h-2v1h-8v-1h-2v1h-1v-4h-5v-1h-1v2h-1v1h-1v-1h-1v4h-1v-2h-1v1h-3v1h-1v-1h-3v-1h-1v1h-1v-5h-1v1h-1v-2h-1v5h-1v-3h-1v1h-1v-1h-1v4h-1v-1h-1v-2h-2v-1h-1v3h-1v2h-2v-3h-1v1h-1v-1h-1v3h-1v-1h-1v-1h-1v1h-2v1h-1v-1h-5v-4h-2v1h-1v3h-5v-1h-1v1h-1v-1h-1v1h-6v1h-2v-1h-1v1h-1v-1h-2v-1h-1v1h-4v-1h-2v1h-2v1h-1v-1h-2v-1h-1v1h-1v1h-2v-2h-2v-2h-1v3h-4v1h-1v-1h-5v-1h-1v2h-1v-1h-4v-4h-2v1h-1v-1h-1v1h-1v-1h-1v5h-1v-1h-1v-1h-1v1h-3v-1h-2v1h-1v-5h-1v-1h-3v-1h-1v1h-1v7h-1v-1h-2v1h-1v-1h-7v1h-1v-2h-1v1h-4v1h-1v-7h-3v6h-2v-1h-1v1h-4v-5h-1v-1h-2v6h-1v1h-1v-1h-3v-6h-2v1h-1v4h-1v1h-1v-1h-3v2h-2v-2h-1v1h-1v-1h-1v1h-1v-1h-2v2h-1v-2h-2v1h-6v1h-1v-1h-5v1h-1v-2h-1v1h-8v1h-4v-1h-3v-1h-1v1h-4v1h-1v-3h-1v-1h-1v2h-1v1h-1v-1h-1v1h-2v-1h-1v1h-1v-1h-1v-5h-3v6h-1v-3h-1v1h-1v1h-1v1h-1v-1h-1v1h-1v1h-1v-5h-2v-1h-1v4h-2v1h-2v-3h-1v1h-1v-2h-1v4h-3v-1h-1v1h-3v1h-1v-1h-2v-3h-2v-1h-1v1h-1v-1h-1v-2h-1v1h-1v-1h-1v2h-3v5h-1v-1h-1v1h-1v-2h-1v2h-2v-2h-1v1h-7v-1h-1v1h-9v-1h-1v1h-1v1h-1v-2h-2v2h-2v-1h-8v-1h-1v2h-1v-1h-3v-3h-2v1h-1v-3h-1v1h-1v-1h-1v6h-1v-2h-1v1h-3v-2h-1v-3h-1v1h-1v-1h-1v4h-1v1h-4v-1h-1v1h-2v-3h-1v-1h-1v-2h-3v2h-2v4h-7v-1h-1v1h-1v1h-1v-1h-2v1h-1v-1h-1v-1h-1v1h-9v-1h-2v1h-2v1h-1v-1h-2v-1h-2v1h-2v-5h-1v1h-2v5h-1v-1h-2v-1h-2v1h-2v1h-1v-1h-2v-3h-2v1h-1v2h-2v-6h-1v1h-1v-1h-1v7h-2v-5h-2v-1h-1v5h-2v-2h-1v-1h-1v1h-1v2h-4v-1h-2v1h-1v1h-1v-1h-1v1h-1v-1h-3v-6h-1v1h-2v2h-2v2h-1v1h-1v1h-1v-2h-1v1h-1v-5h-3v4h-1v2h-1v-2h-1v1h-8v-2h-1v-1h-1v-1h-1v5h-1v-8h-1v1h-2v6h-2v1h-1v-1h-4v1h-1v-2h-1v1h-1v-1h-1v1h-1v1h-2v-1h-1v-1h-1v1h-3v-3h-1v1h-1v-1h-1v3h-3v1h-2v-2h-1v1h-1v1h-1v-1h-1v-6h-3v7h-1v-2h-1v1h-2v1h-1v-1h-1v1h-1v-5h-2v-1h-1v5h-9v1h-2v-3h-1v-1h-2v2h-2v1h-2v1h-1v-1h-2v-4h-1v1h-2v3h-1v1h-1v-1h-1v-4h-1v-1h-2v6h-1v-1h-1v1h-1v-2h-1v1h-2v-5h-3v5h-1v1h-1v-1h-1v1h-1v-6h-1v-2h-1v1h-2v6h-3v-1h-1v1h-3v-1h-1v1h-3v-1h-1v2h-1v-1h-5v-7h-1v2h-1v-2h-1v1h-3v1h-1v5h-1v-6h-1v1h-2v6h-1v-1h-2v1h-1v-1h-1v-1h-2v1h-1v-1h-1v1h-2v-1h-1v1h-5v-1h-1v1h-2v-1h-1v1h-4v1h-1v-1h-1v-1h-1v1h-2v1h-2v-1h-4v-1h-1v1h-1v1h-1v-5h-2v1h-1v3h-2v1h-1v-2h-1v2h-1v-2h-1v1h-1v-6h-1v1h-1v-2h-1v7h-5v1h-1v-2h-1v1h-1v-1h-1v1h-1v1h-1v-1h-3v-1h-1v1Z"/>
<path fill="#00f" d="M908 1381V1238h1v1h2v2h1v-6h4v1h1v3h1v1h2v2h1v-3h1v-1h2v-2h1v8h1v1h1v-1h1v2h1v-1h1v-8h1v7h1v14h1v25h2v1h1v3h2v-29h1v-15h1v-9h2v-6h1v2h3v11h1v1h1v-1h1v-1h1v-1h1v4h1v13h1v25h2v1h1v1h2v-2h1v1h1v2h1v-2h1v-2h1v-51h1v-21h1v-6h5v8h1v13h2v2h1v-7h1v-19h1v-7h5v11h1v23h1v-1h1v-1h1v-1h2v1h2v6h1v-12h1v-42h1v-29h5v19h1v49h1v5h1v-1h3v6h1v11h1v17h1v3h1v-88h1v-34h6v23h1v57h1v10h1v4h1v-19h1v-35h1v-7h5v-27h1v-6h5v-4h5v19h1v67h1v13h2v3h1v-27h1v-11h5v16h1v-2h5v11h1v18h2v1h1v2h1v-16h1v-6h5v6h1v11h3v-1h1v1h1v1h1v1h1v-2h1v1h3v1h1v-5h1v-5h1v-27h1v-5h7v22h1v10h3v1h1v7h1v1h1v-1h1v-1h1v1h2v-6h1v-12h5v1h1v14h1v1h2v9h1v-5h1v-1h3v1h2v10h1v4h1v-12h1v-2h1v1h1v1h1v-1h2v1h1v-1h1v-1h1v4h1v3h1v1h1v1h1v-1h2v1h4v1h1v-4h1v-1h2v-2h1v-6h2v-4h1v-1h1v-1h1v2h1v12h1v1h1v-2h2v-1h1v-3h2v7h1v-1h1v2h1v14h1v25h1v-1h1v1h2v-25h1v-14h1v-13h1v1h2v10h1v-9h2v2h1v-4h4v12h1v-5h2v-1h2v2h1v-1h1v-1h2v-8h2v1h2v7h1v-1h2v1h3v1h1v-1h2v-3h1v-1h1v-1h3v-8h1v1h1v2h2v12h1v1h1v-8h1v1h1v1h1v10h1v14h1v23h1v1h1v-1h1v1h1v-24h1v-14h1v-4h1v-2h1v3h1v-2h2v1h1v4h1v14h1v28h1v-1h1v-2h1v-25h1v-14h1v-14h2v9h2v-1h1v-1h2v-5h1v2h1v-1h1v-1h1v2h1v3h1v5h1v1h1v1h2v-6h2v1h1v-2h1v-3h1v-1h2v-6h1v17h1v15h1v30h1v-1h1v-2h2v1h1v-1h1v-1h1v-1h1v2h1v-1h2v2h1v21h2v-2h1v1h1v1h1v-40h1v-21h1v-26h3v8h3v-1h1v3h1v-1h2v11h1v-1h1v-4h1v-1h4v-1h1v5h1v-8h3v13h1v15h1v24h1v3h1v2h1v-1h1v-28h1v-15h1v-4h1v-7h2v-1h1v-2h1v5h1v1h2v1h1v-1h2v-2h1v1h1v1h1v1h1v2h1v1h4v-1h1v1h2v-2h1v-8h2v1h1v12h1v5h1v-12h1v1h1v-7h1v1h3v10h1v-1h1v-1h1v2h1v-9h2v1h1v-1h3v-1h1v4h1v-1h1v2h1v3h1v1h1v-1h2v-8h2v1h3v1h2v-1h1v2h1v1h2v6h1v1h1v-2h2v1h1v-1h3v3h1v15h1v27h1v1h1v-1h1v-2h1v-1h1v-24h1v-15h1v-10h1v-7h1v-5h5v5h1v12h1v1h1v-1h1v-4h5v3h3v1h2v-5h2v1h2v3h1v-3h1v1h1v-2h1v-3h1v-1h1v-1h2v8h2v-4h1v1h1v-1h2v6h1v1h2v1h1v3h1v-3h1v-2h1v-3h1v10h2v-14h1v1h1v2h1v1h1v-1h1v-7h1v-1h3v7h1v-5h2v-9h1v-10h5v6h1v16h1v1h1v-2h2v2h1v-4h1v-6h2v1h1v1h1v9h1v-6h4v7h1v-1h2v1h1v1h1v1h2v-1h2v4h1v14h1v24h1v1h1v1h1v-55h1v-59h1v-23h6v33h1v57h1v15h1v25h1v1h1v2h1v1h1v-2h2v-57h1v-14h6v14h1v9h1v-3h3v-2h1v-4h5v2h1v10h1v57h1v-1h1v-2h1v2h1v-29h1v-16h1v-2h3v-7h1v1h4v-4h4v1h3v2h1v5h2v-4h1v-15h1v-29h1v-13h5v-41h7v56h1v3h3v12h1v40h1v-9h1v-2h1v1h1v-1h1v1h2v2h1v1h1v-3h4v2h1v-1h1v-1h2v1h1v2h1v-3h1v1h1v1h1v2h1v3h2v-6h1v-5h1v1h1v-1h1v-2h1v3h1v-16h1v-5h5v11h1v5h1v9h1v6h1v-8h1v2h1v1h1v1h1v1h1v-2h1v-2h1v-3h2v2h1v-2h1v16h1v-2h1v-11h1v1h1v-2h1v-9h2v2h1v-1h1v11h1v-2h3v1h1v3h2v-1h1v1h1v3h2v15h1v27h1v-1h1v1h1v2h1v-29h1v-15h1v-9h1v1h1v-1h1v4h1v-3h2v-6h1v2h2v-1h1v10h1v2h1v-1h1v-2h1v-4h2v-6h1v-1h1v1h1v-2h1v9h4v-12h2v1h1v1h1v13h1v2h2v2h1v-2h3v-2h1v-1h1v-1h1v-1h2v-6h1v-1h1v-1h1v-1h1v5h3v-1h1v-4h1v1h2v-1h1v13h1v-2h1v1h1v1h2v2h1v17h1v-3h1v-18h4v-1h2v-2h1v-2h1v10h1v16h1v29h4v-29h1v-16h1v-9h2v-1h1v6h1v4h1v14h1v25h3v2h1v-27h1v-14h1v-12h1v1h2v1h1v4h1v3h1v-1h1v-6h4v4h3v-10h2v-1h2v9h3v-2h4v3h3v2h2v-2h2v2h2v5h1v15h1v26h1v1h2v-1h1v1h3v1h2v-1h1v-1h1v1h1v1h2v-28h1v-15h1v-5h4v1h2v-11h1v1h1v-1h1v2h1v8h1v1h2v-1h1v-6h1v-4h3v1h1v9h1v-1h1v3h1v2h1v-1h1v1h1v1h1v15h1v28h1v-2h2v2h1v2h1v-1h1v-2h2v1h1v1h1v1h1v-1h1v-3h1v-26h1v-15h1v-9h2v-1h1v1h1v8h1v2h1v-9h1v1h2v4h1v1h1v-2h1v1h2v-4h3v-2h1v1h1v-2h1v10h1v14h1v24h2v1h1v1h2v-26h1v-14h1v-3h1v-7h1v2h1v1h1v-2h1v-1h1v2h1v1h2v3h1v1h1v-9h1v-1h1v1h1v-1h1v10h1v-1h1v-2h1v-1h1v-1h1v1h2v1h1v1h1v4h1v-1h1v-5h2v1h3v-1h1v-7h2v-3h1v2h1v8h1v2h1v5h1v14h1v29h1v-1h1v-2h1v1h2v-27h1v-14h1v-14h3v8h1v1h1v-2h3v-2h2v4h1v-1h6v-7h2v-1h1v2h1v7h2v1h1v-10h1v-1h1v1h1v1h4v5h2v2h2v3h3v3h2v1h1v-1h1v-1h1v-9h3v-2h1v1h1v1h1v1h1v2h2v-7h1v1h1v1h2v5h2v1h1v-1h1v-2h1v1h1v1h1v2h1v-2h2v-1h1v1h1v2h2v3h1v10h1v-5h2v-17h1v-1h1v3h1v-1h2v1h1v6h3v2h1v2h1v-9h3v2h1v7h1v-1h1v-1h3v2h1v-2h1v-1h1v-5h1v-1h1v-1h1v-3h1v6h1v-4h1v-1h1v6h1v-1h1v-6h1v1h1v5h1v-1h1v2h1v2h1v4h1v1h1v-4h1v-1h1v-1h1v1h2v-1h1v3h1v1h1v-3h2v6h1v15h1v29h1v1h1v-1h1v-2h1v-27h1v-15h1v-3h1v-1h1v1h1v3h1v-6h3v-1h2v-1h1v-1h4v5h5v-10h1v1h1v2h2v3h1v2h1v-1h1v5h1v1h1v-2h2v1h3v-1h1v3h1v15h1v25h1v3h1v1h1v-2h1v1h1v1h1v-1h2v-1h1v-27h1v-15h1v-17h1v1h1v11h2v-1h4v-3h4v2h1v-4h1v-1h1v2h5v2h1v4h2v-7h2v-1h2v4h1v8h1v14h1v25h2v2h1v2h1v-2h1v-27h1v-14h1v5h1v-8h1v-6h1v1h3v4h1v2h1v6h1v-3h1v-2h3v1h1v5h1v-4h1v-4h1v-1h1v-1h1v-1h2v-1h1v2h1v1h1v-1h1v3h1v-5h2v1h1v1h1v3h1v-1h2v-1h1v19h1v1h1v-14h2v-10h1v-4h1v-1h2v-1h1v7h2v1h1v6h1v14h1v26h3v2h1v1h1v-29h1v-14h1v-6h1v2h1v2h1v3h2v-8h1v-1h3v10h2v-5h2v-5h1v-2h1v2h3v4h1v-2h1v1h3v5h1v-1h1v-4h1v-1h1v-2h2v-10h1v1h2v14h1v8h1v-14h1v1h2v1h1v7h1v15h1v26h1v1h1v1h1v-1h1v-1h1v1h1v1h1v1h1v1h2v-1h1v-1h1v-1h1v-27h1v-15h1v-9h1v3h1v-2h1v-1h1v1h1v-2h1v-3h1v1h1v1h1v-1h1v4h1v-1h1v1h1v-5h3v1h1v1h1v1h1v-1h1v4h2v1h3v-4h1v1h1v1h2v-1h1v-1h2v6h1v-2h2v-1h1v-10h4v6h2v1h3v1h2v-1h1v4h1v1h3v-7h4v-1h3v8h2v-3h4v8h1v-4h1v4h1v16h1v27h1v2h2v-2h3v2h1v-1h2V1380h-1v2h-1v-1h-2v-1h-1v1h-1v1h-1v-1h-1v-4h-3v3h-1v1h-3v1h-1v-4h-1v1h-1v-2h-1v4h-1v1h-1v-1h-2v1h-1v-1h-3v1h-1v-1h-2v1h-2v-1h-6v1h-3v-1h-1v-1h-1v1h-1v1h-1v-1h-1v1h-2v-1h-2v-2h-1v-1h-1v-1h-1v3h-1v-1h-3v2h-1v1h-1v-1h-4v-1h-1v2h-1v-2h-2v1h-1v-1h-1v-5h-3v7h-2v-1h-3v1h-1v-1h-2v-1h-2v1h-13v1h-1v-1h-3v1h-1v-1h-2v1h-1v-1h-2v-1h-1v1h-4v-1h-1v1h-2v-3h-1v-2h-1v1h-1v-1h-1v6h-1v-1h-2v-1h-2v1h-1v-4h-1v1h-2v-3h-1v1h-1v-1h-1v7h-1v-1h-2v-1h-1v1h-3v-1h-2v1h-2v-1h-1v1h-2v1h-1v-1h-5v-5h-1v-2h-2v8h-1v-1h-1v1h-1v-1h-1v-6h-1v1h-1v-1h-1v6h-2v-4h-2v1h-1v3h-2v-6h-1v-1h-2v6h-1v1h-4v-1h-1v1h-1v-1h-1v-5h-1v1h-1v-2h-1v7h-1v1h-1v-1h-1v-1h-1v1h-1v-1h-1v1h-3v-5h-1v-1h-1v1h-1v1h-1v4h-3v-3h-3v4h-1v-1h-4v-1h-1v1h-2v-1h-1v2h-1v-1h-9v1h-1v-3h-2v-1h-1v3h-6v1h-1v-1h-1v1h-1v-2h-1v1h-2v-1h-1v1h-1v1h-1v-7h-2v1h-1v4h-1v1h-2v-1h-1v1h-1v1h-1v-2h-1v1h-6v1h-1v-1h-3v-1h-1v1h-3v-1h-1v2h-1v-1h-2v-1h-1v1h-4v-1h-1v1h-5v1h-3v-2h-1v1h-3v-4h-1v2h-1v-1h-1v3h-1v-1h-1v-4h-1v1h-1v-3h-1v2h-1v-1h-1v1h-1v3h-1v-1h-1v1h-1v2h-1v1h-1v-1h-1v-1h-1v-1h-1v-1h-1v-1h-3v4h-2v1h-1v-1h-1v-1h-2v1h-3v-5h-1v1h-1v-1h-1v1h-1v-1h-1v4h-1v1h-1v1h-1v-1h-1v-1h-1v1h-1v-2h-1v1h-1v-1h-1v3h-2v-1h-1v-1h-1v2h-1v-2h-1v-3h-1v2h-1v-2h-1v2h-1v-1h-1v4h-1v-1h-5v1h-1v-3h-3v2h-2v-1h-1v-6h-1v2h-2v5h-10v1h-1v-1h-2v1h-1v-2h-1v1h-2v-5h-1v-2h-1v2h-3v1h-1v4h-2v-1h-1v1h-4v-1h-1v1h-1v1h-2v-1h-3v-4h-2v-1h-1v5h-2v-5h-3v5h-1v-2h-2v1h-2v1h-2v-6h-3v5h-1v1h-1v1h-1v-1h-2v-1h-1v1h-1v1h-1v-7h-2v-1h-1v7h-1v-1h-2v2h-2v-1h-2v1h-1v-4h-1v-1h-2v4h-1v-1h-3v1h-1v1h-2v-1h-1v-5h-3v4h-1v1h-1v-4h-1v-1h-2v4h-1v1h-5v-1h-1v1h-2v-1h-4v-1h-1v2h-2v1h-1v-1h-1v-1h-2v2h-1v-2h-1v2h-1v-1h-1v1h-1v-2h-1v1h-4v1h-1v-5h-1v-1h-1v1h-1v4h-1v-2h-1v-1h-2v3h-5v-3h-2v1h-1v-2h-1v1h-3v-2h-1v6h-2v-2h-1v-2h-1v1h-1v-4h-1v1h-1v-1h-1v7h-2v-1h-1v-1h-2v1h-1v1h-1v-5h-1v1h-1v-1h-1v4h-2v-1h-1v1h-2v-5h-1v-1h-1v1h-1v4h-1v1h-1v-1h-1v1h-1v1h-1v-1h-2v-1h-1v1h-2v-1h-1v1h-1v-1h-1v1h-2v-1h-1v-3h-2v-1h-1v3h-1v2h-5v1h-1v-2h-2v2h-1v-2h-1v1h-1v1h-1v-2h-1v1h-2v1h-1v-2h-1v1h-7v-5h-1v1h-1v1h-1v-3h-1v1h-1v-2h-1v8h-1v-1h-1v-6h-1v1h-1v1h-1v4h-2v-1h-1v1h-3v-4h-3v3h-1v1h-2v1h-1v-1h-3v-1h-1v1h-4v1h-1v-1h-1v1h-1v-1h-2v-4h-1v-2h-1v2h-1v4h-3v1h-1v-4h-3v4h-1v-2h-1v-5h-1v2h-2v4h-1v-2h-1v-1h-1v2h-1v1h-1v-1h-1v1h-1v1h-1v-1h-2v-1h-1v1h-3v-1h-1v1h-1v1h-2v-2h-1v1h-1v1h-2v-1h-2v1h-1v-2h-1v1h-3v1h-2v-1h-3v1h-1v-1h-1v-1h-1v1h-3v1h-1v-4h-1v-1h-2v3h-1v1h-1v1h-1v-1h-1v-1h-1v1h-1v-7h-1v2h-1v-1h-1v5h-1v2h-1v-3h-2v-4h-2v1h-1v6h-2v-1h-5v1h-1v-1h-5v-1h-2v1h-1v1h-1v-1h-5v-5h-3v4h-1v2h-2v-1h-4v-3h-1v1h-2v-1h-1v-1h-1v1h-1v3h-3v-2h-1v1h-1v-2h-1v3h-2v1h-1v-1h-1v1h-1v-1h-2v-1h-1v1h-1v-3h-3v2h-1v1h-2v1h-1v-1h-1v-1h-1v-3h-1v1h-1v1h-1v2h-3v-1h-1v1h-2v-1h-2v2h-2v-2h-1v1h-3v-1h-1v2h-1v-2h-1v1h-2v1h-2v-1h-2v1h-1v-1h-4v-5h-1v1h-2v5h-1v-1h-1v-1h-1v2h-1v-1h-1v1h-2v-1h-3v-1h-1v2h-1v-3h-1v-2h-1v1h-1v3h-1v-5h-1v-1h-1v2h-1v1h-3v3h-2v-3h-3v2h-1v1h-2v-1h-1v1h-3v-5h-2v-1h-1v6h-1v1h-2v-2h-1v1h-1v-5h-2v1h-1v3h-1v1h-3v1h-1v-2h-1v1h-2v-2h-1v-1h-1v1h-1v2h-2v1h-1v-1h-1v-2h-1v-1h-1v-1h-1v4h-1v-1h-2v1h-2v-5h-1v1h-2v4h-2v1h-2v-2h-2v1h-3v1h-2v-1h-1v-4h-1v1h-1v-1h-1v3h-1v1h-1v1h-1v-1h-4v-1h-1v1h-1v1h-1v-2h-1v2h-2v-1h-6v-1h-1v1h-2v-4h-1v1h-2v4h-1v-1h-10v-4h-1v-1h-3v5h-3v-1h-1v1h-4v-6h-3v7h-1v-1h-2v-1h-1v1h-5v-1h-1v1h-9v1h-1v-2h-1v2h-2v-1h-1v1h-1v-1h-2v-1h-1v1h-6v-1h-1v1h-4v-6h-1v-1h-1v2h-1v1h-1v4h-1v-1h-1v1h-2v-1h-1v1h-1v-1h-1v1h-2v-1h-1v2h-1v-1h-1v-3h-1v-2h-1v1h-2v4h-1v-1h-1v1h-1v1h-1v-1h-1v-2h-1v1h-1v-1h-1v2h-2v-1h-2v-1h-1v3h-1v-1h-1v-1h-1v1h-3v1h-1v-2h-1v1h-3v-1h-1v-5h-3v7h-1v-1h-5v1h-1v-5h-2v-1h-1v6h-1v-2h-1v1h-3v1h-1v-1h-2v1h-1v-1h-3v-1h-1v1h-2v-3h-2v1h-1v2h-1v-5h-1v1h-1v-2h-1v6h-1v-1h-2v1h-1v1h-1v-1h-3v-5h-1v-1h-2v1h-1v-1h-1v6h-1v1h-1v-1h-3v1h-1v-1h-2v-4h-1v-1h-1v1h-1v5h-1v-1h-3v-1h-1v1h-5v-1h-1v1h-2v1h-2v-6h-1v1h-1v-1h-1v-1h-3v7h-3v-1h-5v1h-1v-1h-1v-1h-1v2h-1v-1h-5v-2h-4v-1h-1v2h-1v2h-1v-1h-5v-5h-1v-1h-1v1h-1v4h-1v1h-2v-5h-1v-1h-1v1h-1v6h-1v-1h-1v1h-3v-2h-1v-4h-1v1h-2v4h-2v-4h-3v4h-3v-6h-1v1h-2v5h-4v-1h-1v1h-3v1h-1v-2h-1v2h-1v-2h-1v-4h-3v6h-1v-1h-2v-1h-1v1h-6v1h-1v-1h-2v1h-1v-2h-1v1h-2v1h-1v-1h-3v1h-1v-1h-2v-6h-2v1h-1v5h-1v-1h-5v1h-5v1h-1v-1h-2v-5h-2v-1h-1v4h-2v2h-1v1h-1v-1h-2v-3h-2v1h-1v2h-2v-1h-1v1h-1v1h-1v-1h-1v1h-1v-1h-3v-1h-1v1h-2v-4h-2v-2h-2v-1h-1v7h-7v-1h-1v1h-1v1h-2v-1h-3v1h-1v-2h-1v2h-1v-1h-1v-4h-1v1h-1v-1h-1v3h-1v1h-1v-2h-1v-1h-2v4h-2v-1h-3v1h-1v-1h-1v-1h-1v1h-2v-1h-1v2h-1v-2h-1v1h-2v1h-1v-2h-1v1h-1v-4h-3v3h-1v1h-1v-1h-1v1h-1v1h-1v-1h-1v-1h-1v1h-2v1h-1v-2h-1v1h-8v-4h-3v4h-1v1h-2v-1h-1v-1h-1v1h-2v-1h-1v-3h-1v1h-1v-1h-1v4h-1v1h-1v-1h-1v1h-1v-1h-6v1h-1v-1h-4v1h-1v-6h-1v1h-1v-1h-1v4h-1v-1h-1v-1h-2v2h-1v2h-1v-1h-4v1h-3v-6h-1v-1h-3v7h-1v-1h-1v-1h-1v1h-1v1h-2v-2h-1v1h-1v-1h-1v1h-2v-1h-1v2h-2v-1h-4v1h-1v-1h-1v-4h-1v1h-1v-3h-3v7h-1v-1h-2v-1h-1v2h-3v-4h-2v-1h-1v4h-1v1h-1v-5h-1v1h-1v-1h-1v4h-1v-1h-1v2h-1v-1h-7v-5h-1v1h-1v-1h-1v6h-1v-1h-2v-1h-1v1Z"/>
<path fill="none" stroke="#00f" stroke-width="3.5" d="M899 1281H903.5V1262.5H908"/>
</g>
<text x="1247.00" y="54.30" font-size="64" text-anchor="middle" letter-spacing="-1.759" word-spacing="10.3">Bosscha − Mode 1, Band 2 (SKA)</text>
<text x="1247.90" y="243.20" font-size="51" text-anchor="middle" letter-spacing="-0.686" word-spacing="11" stroke="#000" stroke-width="0.5" transform="rotate(-0.09 1247.9 243.2)">red = max, green =  90 percentile, yellow = mean, blue = 10 percentile</text>
<text x="896.73" y="1615.80" font-size="60" text-anchor="middle" letter-spacing="1.240" word-spacing="16.2">200</text>
<text x="1602.47" y="1615.80" font-size="60" text-anchor="middle" letter-spacing="1.240" word-spacing="16.2">250</text>
<text x="2305.50" y="1615.80" font-size="60" text-anchor="middle" letter-spacing="1.240" word-spacing="16.2">300</text>
<text x="1248.80" y="1700.80" font-size="64" text-anchor="middle" letter-spacing="-1.957" word-spacing="10.5">Frequency (MHz)</text>
<text transform="translate(147.80 256.38) rotate(-90)" font-size="60" text-anchor="middle" letter-spacing="1.240" word-spacing="16.2">−40</text>
<text transform="translate(147.80 577.13) rotate(-90)" font-size="60" text-anchor="middle" letter-spacing="1.240" word-spacing="16.2">−60</text>
<text transform="translate(147.80 896.79) rotate(-90)" font-size="60" text-anchor="middle" letter-spacing="1.240" word-spacing="16.2">−80</text>
<text transform="translate(147.80 1218.44) rotate(-90)" font-size="60" text-anchor="middle" letter-spacing="1.240" word-spacing="16.2">−100</text>
<text transform="translate(147.80 1538.30) rotate(-90)" font-size="60" text-anchor="middle" letter-spacing="1.240" word-spacing="16.2">−120</text>
<text transform="translate(52.60 818.75) rotate(-90)" font-size="64" text-anchor="middle" letter-spacing="-2.000" word-spacing="10.5">Power Spectral Intensity (dBm)</text>
</g>
<g id="plot2">
<path d="M190.2 1969.3V3416.2" fill="none" stroke="#000" stroke-width="5.0"/>
<path d="M2306.5 1969.3V3416.2" fill="none" stroke="#000" stroke-width="4.4"/>
<path d="M188.29999999999998 1971.5H2308.3M188.29999999999998 3414.0H2308.3" fill="none" stroke="#000" stroke-width="4.4"/>
<path d="M331.3 3414.0v-14.3M331.3 1971.5v14.3M472.1 3414.0v-14.3M472.1 1971.5v14.3M612.9 3414.0v-14.3M612.9 1971.5v14.3M753.7 3414.0v-14.3M753.7 1971.5v14.3M894.5 3414.0v-29.6M894.5 1971.5v29.6M1035.3 3414.0v-14.3M1035.3 1971.5v14.3M1176.1 3414.0v-14.3M1176.1 1971.5v14.3M1316.9 3414.0v-14.3M1316.9 1971.5v14.3M1457.7 3414.0v-14.3M1457.7 1971.5v14.3M1598.5 3414.0v-29.6M1598.5 1971.5v29.6M1739.3 3414.0v-14.3M1739.3 1971.5v14.3M1880.1 3414.0v-14.3M1880.1 1971.5v14.3M2020.9 3414.0v-14.3M2020.9 1971.5v14.3M2161.7 3414.0v-14.3M2161.7 1971.5v14.3M2302.5 3414.0v-29.6M2302.5 1971.5v29.6M190.2 3253.7h14.3M2306.4 3253.7h-14.3M190.2 3093.4h29.6M2306.4 3093.4h-29.6M190.2 2933.2h14.3M2306.4 2933.2h-14.3M190.2 2772.9h29.6M2306.4 2772.9h-29.6M190.2 2612.6h14.3M2306.4 2612.6h-14.3M190.2 2452.3h29.6M2306.4 2452.3h-29.6M190.2 2292.1h14.3M2306.4 2292.1h-14.3M190.2 2131.8h29.6M2306.4 2131.8h-29.6" fill="none" stroke="#000" stroke-width="4.1" stroke-linecap="round"/>
<rect x="190.5" y="2340.1" width="41.8" height="80.1" fill="#000"/>
<rect x="273.9" y="2276.0" width="15.2" height="48.9" fill="#f0f"/>
<rect x="330.2" y="2276.0" width="36.3" height="48.9" fill="#f0f"/>
<rect x="528.4" y="2276.0" width="788.5" height="48.9" fill="#f0f"/>
<rect x="1387.3" y="2276.0" width="919.2" height="48.9" fill="#aaa"/>
<rect x="2119.5" y="2276.0" width="98.6" height="48.9" fill="#f0f"/>
<g shape-rendering="crispEdges">
<path fill="#f00" d="M188 3254V3052h1v-2h1v-2h1v-5h1v1h7v7h1v1h1v-3h2v1h2v1h2v-3h2v-4h4v2h1v5h1v2h2v1h1v-2h4v4h1v-1h2v-1h1v-1h1v1h1v-1h1v-2h1v-1h2v-1h1v-4h1v-1h1v1h2v-1h1v2h1v12h1v-12h1v1h1v4h1v6h1v-4h1v-1h2v-1h1v1h1v2h2v2h2v-7h2v-1h2v2h2v-3h4v4h1v2h3v-4h1v2h1v-1h1v-4h1v-1h2v-3h1v1h1v-1h2v7h2v1h1v-9h5v1h1v-1h2v-1h2v1h1v-1h1v10h4v2h1v-1h2v-5h2v-1h1V3256h-3v-2h-1v2h-5v-2h-1v2h-2v-2h-1v2h-3v-2h-1v2h-2v-2h-1v2h-18v-2h-1v2h-4v-2h-1v2h-11v-2h-1v2h-1v-2h-1v2h-3v-2h-1v2h-4v-2h-1v2h-3v-2h-1v2h-1v-2h-2v2h-3v-2h-1v2h-7v-2h-1v2h-5v-2h-1v2h-7v-2h-1v2h-4v-2h-1v2h-8v-2ZM307 3254V3046h3v7h1v-18h1v-1h3v16h2v-1h1v-7h1v1h3v10h1v-2h1v1h2v-1h1v-2h2v-9h2v-1h2v13h1v-1h1v1h1v-2h1v1h1v-1h2v-3h2v1h1v-1h1v4h1v2h1v-5h1v-1h1v1h2v-7h1v-1h3v4h1v7h1v2h2v-5h4v2h1v1h1v-1h1v-1h1v-2h2v1h2v4h3v4h2v-3h1v-3h1v1h3v4h1v-1h1v-4h1v-1h1v13h1v-20h4v12h2v-1h2v-1h1v13h1v-12h1v-6h3v-1h1v7h3v-14h4v7h2v-8h2v1h1v-1h1v7h3v-3h2v12h1v-12h1v6h1v-7h2v-1h1v1h1v8h2v1h2v-1h1v-9h2v1h2v11h1v1h2v3h1v-3h1v-1h1v-1h1v-10h4v10h1v-2h2v1h2v2h1v-4h1v1h2v1h3v-4h3v-1h1v5h2v-1h2v3h2v3h4v-8h4v6h3v-2h3v-1h1v-1h3v-5h4v1h2v1h1v7h2v-1h1v-4h3v-1h1v1h1v-1h2v4h1v-1h1v-4h3v1h1v4h2v1h1v-1h1v1h1v3h2v-5h4v3h1v-2h2v-11h2v-1h1v1h1v1h1v-1h1v9h1v1h1v-1h2v-1h1v1h1v-1h1v1h1v2h1v-2h4v2h2v-1h2v-1h2v4h1v-1h3v-5h1v1h2v-16h1v-1h2v1h1v17h1v-8h2v1h2v-6h2v16h1v-17h1v15h1v2h1v2h1v-3h4v-1h1v-7h4v8h2v-1h1v-8h3v-1h1v3h2v-11h2v-1h2v10h1v1h2v-5h1v1h2v1h1v10h3v-2h4v2h2v6h1v-10h4v2h1v-1h2v-4h2v-5h2v-1h2v12h2v-6h2v1h2v7h3v1h1v-4h1v1h1v-1h1v-1h3v-1h1v5h1v5h2v-1h1v-3h1v-7h1v1h2v1h1v2h1v-1h1v1h4v1h4v3h1v1h2v2h1v-8h2v-1h1v-1h2v-2h4v4h1v-8h4v12h1v-3h1v1h1v-2h2v1h2v2h1v1h1v4h1v-1h1v1h2v-4h1v-1h1v-3h1v-6h1v-1h1v1h2v7h1v1h3v-1h1v2h1v1h1v-6h1v1h3v1h2v5h1v-8h1v1h1v-1h2v20h1v-20h1v8h1v-13h1v-1h3V3256h-17v-2h-1v2h-1v-2h-1v2h-3v-2h-1v2h-19v-2h-1v2h-23v-2h-1v2h-5v-2h-2v2h-7v-2h-1v2h-6v-2h-2v2h-12v-2h-1v2h-5v-2h-1v2h-6v-2h-1v2h-2v-2h-1v2h-10v-2h-1v2h-14v-2h-1v2h-12v-2h-1v2h-3v-2h-1v2h-3v-2h-1v2h-2v-2h-1v2h-2v-2h-1v2h-4v-2h-2v2h-7v-2h-1v2h-4v-2h-1v2h-1v-2h-1v2h-3v-2h-1v2h-2v-2h-1v2h-7v-2h-1v2h-6v-2h-1v2h-1v-2h-1v2h-14v-2h-1v2h-2v-2h-1v2h-2v-2h-1v2h-1v-2h-1v2h-14v-2h-1v2h-3v-2h-1v2h-2v-2h-1v2h-2v-2h-1v2h-11v-2h-2v2h-10v-2h-1v2h-8v-2h-2v2h-1v-2h-1v2h-10v-2h-1v2h-4v-2h-1v2h-1v-2h-1v2h-3v-2h-1v2h-6v-2h-1v2h-7v-2h-2v2h-6v-2h-1v2h-6v-2h-2v2h-9v-2h-1v2h-5v-2h-1v2h-2v-2h-1v2h-12v-2h-1v2h-1v-2h-1v2h-9v-2h-1v2h-3v-2h-2v2h-9v-2ZM726 3254V3045h2v2h1v3h1v4h1v1h2v-12h4v2h1v1h3v1h1v4h1v3h1v-11h4v4h1v1h1v-1h2v5h2v-8h4v2h2v3h2v1h1v-1h1v1h1v1h1v-4h1v-5h1v1h1v-1h2v12h1v1h1v-1h2v-7h3v1h2v1h1v1h1v4h2v-3h1v-4h3v-1h1v6h1v-1h3v1h2v-17h2v1h2v7h2v-1h1v1h1v8h1v-7h1v-1h2v1h1v5h2v-1h1v5h1v-4h1v-15h1v-1h1v1h1v-1h1v8h1v8h1v-4h1v-1h1v-1h1v1h1v-3h2v-1h1v1h1v2h2v4h1v1h1v-5h2v1h2v7h3v-5h1v6h1v-6h2v-6h1v-1h4v7h1v2h1v-1h4v-3h2v-6h2v-1h2v20h1v-9h4v2h2v-10h1v-1h3v15h1v-7h1v-4h1v-1h1v-4h2v1h2v15h2v-6h4v2h1v1h4v4h4v-13h1v-1h1v1h2v1h3v2h1v-1h1v7h1v-7h2v7h1v-12h3v-1h1v7h1v1h1v2h3v1h1v1h1v2h1v-3h1v-1h2v2h1v-1h1v-2h1v-8h2v-3h2v1h1v-1h1v16h1v-3h1v1h1v-1h2v-1h2v1h3v-5h4v4h2v-2h1v1h3v4h1v-1h2v1h1v-1h1v4h1v-3h1v-5h1v-1h1v-3h4v3h2v1h2v7h1v-6h1v1h4v-1h1v-4h3v-1h1v9h1v-5h3v-1h1v5h2v-4h1v1h4v-1h1v-7h2v-1h2v14h2v-10h4v5h1v3h1v-2h2v1h2v1h1v-1h1v-11h3v1h1v4h1v5h3v-5h1v-2h2v1h2v11h1v2h2v-1h4v1h1v1h1v-2h2v-1h1v-6h1v-1h3v3h1v2h2v-4h2v-1h3v-1h5v2h2v4h1v-11h2v-2h4v6h1v-6h4v1h2v5h1v1h1v1h1v6h1v-10h4v10h1v1h1v-12h3v-1h1v16h1v-10h3v-1h1v16h1v-17h1v-1h2v-4h4v6h1v-1h1v1h2v4h1v1h1v-4h3v1h1v3h2v-2h2v-1h2v2h1v1h3v-4h2v-2h4v6h1v-1h1v-4h4v3h2v-1h1v4h1v-2h3v-3h3v-4h1v-1h3v4h1v-7h2v1h3v4h1v1h6v1h1v-3h1V3256h-4v-2h-1v2h-3v-2h-1v2h-5v-2h-1v2h-1v-2h-1v2h-1v-2h-1v2h-4v-2h-1v2h-2v-2h-1v2h-1v-2h-1v2h-1v-2h-2v2h-1v-2h-1v2h-11v-2h-1v2h-7v-2h-1v2h-3v-2h-1v2h-10v-2h-1v2h-6v-2h-1v2h-7v-2h-1v2h-2v-2h-1v2h-14v-2h-1v2h-6v-2h-1v2h-4v-2h-1v2h-21v-2h-1v2h-1v-2h-2v2h-4v-2h-1v2h-1v-2h-1v2h-7v-2h-1v2h-6v-2h-1v2h-19v-2h-1v2h-6v-2h-1v2h-2v-2h-1v2h-1v-2h-2v2h-4v-2h-1v2h-12v-2h-1v2h-5v-2h-1v2h-6v-2h-1v2h-16v-2h-2v2h-2v-2h-1v2h-10v-2h-1v2h-4v-2h-1v2h-11v-2h-1v2h-5v-2h-1v2h-28v-2h-1v2h-6v-2h-1v2h-8v-2h-1v2h-3v-2h-1v2h-5v-2h-3v2h-2v-2h-2v2h-1v-2h-1v2h-2v-2h-1v2h-13v-2h-1v2h-10v-2h-1v2h-12v-2h-1v2h-1v-2h-1v2h-3v-2h-1v2h-3v-2h-1v2h-7v-2h-1v2h-1v-2h-1v2h-3v-2h-1v2h-6v-2h-1v2h-2v-2h-1v2h-3v-2h-1v2h-4v-2ZM1160 3256V3048h1v1h1v-2h1v-1h1v-1h3v1h1v5h1v-7h1v-2h3v-1h2v8h1v-1h3v-1h1v-7h1v-1h3v4h1v-8h1v1h3v14h1v-1h2v-9h2v1h2v9h1v-2h1v-1h3v1h1v-7h2v1h1v-1h1v6h3v-5h4v5h3v-1h4v4h2v1h1v-7h4v-1h3v3h1v1h1v1h1v-1h1v-5h3v-1h1v3h1v-11h4v4h2v-1h2v15h5v-1h1v-15h1v1h1v-1h2v11h2v2h1v3h1v-17h3v1h1v12h1v-11h3v-1h1v7h2v-1h1v1h1v9h2v2h2v-16h2v1h2v10h1v1h1v-4h3v1h3v1h1v-1h1v1h3v3h1v2h2v-2h3v-7h2v-2h3v-1h1v9h1v-1h1v-9h2v-11h1v1h1v8h1v-8h1v16h1v-12h4v16h1v-1h5v-2h1v-2h1v13h1v-14h2v2h1v1h2v7h1v-4h1v-6h1v-2h1v-1h1v-1h1v1h1v10h2v-1h1v-1h1v-9h4v7h3v-9h2v-10h4v18h2v1h1v-1h1v1h1v-4h1v-1h2v1h2v3h3v7h2v1h1v-5h1v-10h4v13h1v1h1v-4h2v-7h4v-2h4v7h3v-2h4v5h3v-7h2v-1h2v5h1v1h1v1h2v-4h1v-1h1v1h1v-4h1v1h2v1h2v5h1v2h2v-7h1v1h2v-1h1v2h1v3h3v3h4v-4h1v-7h2v1h1v-1h1v3h3v-12h3v-1h1v15h2v-1h1v-7h4v11h1v1h1v-1h1v1h1v4h2v-13h1v1h1v-1h2v6h2v2h1v-1h1v-5h1v1h1v-1h2v8h2v-1h1v-5h4v2h2v1h1v2h1v1h3v4h2v-1h1v-3h3v-1h2v-1h1v1h3v-6h3v1h1v6h1v-1h1v-4h1v1h2v-16h3v1h1v11h2v1h1v6h1v1h1v1h4v-12h1v-2h4v5h3v10h1v-3h1v-13h4v12h1v1h2v-7h3v-1h1v13h2v-2h2v-1h3v-1h2v-11h1v-1h1v1h2v1h2v8h1v-8h1v1h2v-4h1v1h1v1h2v3h3v5h1V3256h-1v-2h-1v2h-3v-2h-1v2h-4v-2h-1v2h-7v-2h-2v2h-6v-2h-1v2h-16v-2h-1v2h-1v-2h-1v2h-7v-2h-2v2h-3v-2h-1v2h-6v-2h-1v2h-7v-2h-2v2h-1v-2h-1v2h-9v-2h-1v2h-6v-2h-1v2h-1v-2h-1v2h-4v-2h-1v2h-5v-2h-1v2h-7v-2h-1v2h-23v-2h-2v2h-3v-2h-2v2h-7v-2h-1v2h-4v-2h-1v2h-2v-2h-2v2h-3v-2h-1v2h-19v-2h-1v2h-3v-2h-2v2h-3v-2h-1v2h-16v-2h-1v2h-4v-2h-1v2h-22v-2h-1v2h-1v-2h-1v2h-8v-2h-1v2h-1v-2h-1v2h-2v-2h-2v2h-1v-2h-1v2h-13v-2h-1v2h-1v-2h-2v2h-12v-2h-2v2h-6v-2h-1v2h-18v-2h-1v2h-5v-2h-1v2h-7v-2h-1v2h-4v-2h-1v2h-4v-2h-3v2h-25v-2h-1v2h-4v-2h-1v2h-2v-2h-1v2h-7v-2h-2v2h-7v-2h-1v2h-5v-2h-2v2h-3v-2h-1v2ZM1570 3256V3035h2v8h1v6h1v-1h1v-1h3v-5h1v-3h4v2h1v8h2v-1h3v1h1v-12h1v-1h2v1h1v8h1v-5h3v1h1v11h1v-9h4v-11h1v-1h3v18h2v-4h3v-1h1v1h6v-1h1v4h2v1h3v-6h3v-3h1v1h2v-5h2v1h1v-1h1v8h2v1h1v2h3v2h1v-11h4v5h3v1h2v3h5v5h1v-1h1v3h1v-2h3v-3h1v-3h1v1h1v20h1v-21h1v1h1v-7h1v-2h1v-1h2v-1h1v11h1v-1h1v1h1v-11h1v1h3v8h2v1h1v1h3v6h1v-8h2v-1h1v-1h1v7h2v1h2v3h1v-8h1v-3h2v1h1v-1h1v6h3v3h2v-2h1v15h1v-15h3v-1h2v-7h3v1h1v3h1v4h2v-1h2v-5h1v-1h1v-6h4v9h1v-13h1v1h3v7h1v1h1v10h1v-3h1v1h1v1h1v-16h4v14h3v-12h1v-1h1v1h1v15h1v-8h1v1h1v-1h1v-2h3v1h1v10h1v-5h1v-5h1v1h3v1h1v1h1v-1h3v-11h4v12h1v-3h2v-5h1v-1h2v1h1v4h2v-1h1v11h1v-7h1v1h5v6h1v2h1v-1h1v-2h2v-1h1v-6h1v-1h2v-11h3v-1h1v19h1v-7h1v-3h2v1h1v1h1v7h2v-26h2v1h2v28h1v1h1v-23h1v-1h1v-1h1v-1h1v20h1v-1h1v5h1v-1h3v-1h1v-2h4v1h2v5h1v-8h1v1h5v-3h2v-7h4v12h1v-9h4v3h1v-2h1v-6h2v-2h1v-1h3v16h1v-7h3v1h1v6h4v-1h2v-2h1v-1h2v1h2v5h2v-1h2v1h1v-5h4v-5h3v-2h2v-3h1v1h3v1h1v-1h1v2h2v4h2v1h1v1h1v1h1v-7h1v-2h3v13h1v1h1v-1h3v-1h1v2h2v-1h1v1h2v-6h1v-1h1v1h1v-1h2v10h1v-9h3v-5h1v1h3v1h2v21h1v-20h1v4h1v-1h3v4h2v-1h1v1h1v-2h1v1h1v-13h4v-1h1v13h2v18h1v-18h1v-2h1v1h1v-1h1v-3h1v-1h3v4h1v6h1v-14h4v8h2v1h3v4h2v-4h1v-1h1v1h1v-1h4v7h3v-3h2v-1h1v-7h1v-1h1v1h2v6h2v3h1v-6h1v-6h2v1h2v8h1v-1h1v-1h3v1h1v-1h3v1h1v-3h2v-2h1v-6h4v9h2v4h1v1h1v-1h1v2h1v-4h3v1h1v1h1v1h1v3h1v1h1V3256h-1v-2h-1v2h-5v-2h-1v2h-13v-2h-2v2h-3v-2h-1v2h-27v-2h-2v2h-8v-2h-1v2h-19v-2h-1v2h-2v-2h-1v2h-2v-2h-1v2h-1v-2h-1v2h-3v-2h-1v2h-6v-2h-1v2h-4v-2h-1v2h-3v-2h-1v2h-7v-2h-1v2h-15v-2h-1v2h-8v-2h-1v2h-11v-2h-1v2h-6v-2h-1v2h-5v-2h-1v2h-4v-2h-1v2h-13v-2h-1v2h-6v-2h-1v2h-11v-2h-1v2h-6v-2h-1v2h-4v-2h-2v2h-2v-2h-1v2h-14v-2h-1v2h-1v-2h-1v2h-2v-2h-1v2h-10v-2h-1v2h-8v-2h-1v2h-6v-2h-1v2h-5v-2h-1v2h-43v-2h-1v2h-7v-2h-1v2h-10v-2h-2v2h-13v-2h-1v2h-17v-2h-1v2h-8v-2h-1v2h-10v-2h-1v2h-2v-2h-1v2h-9v-2h-1v2h-1v-2h-2v2h-7v-2h-3v2h-6v-2h-1v2h-3v-2h-1v2h-1v-2h-1v2h-7v-2h-1v2h-13v-2h-1v2h-3v-2h-1v2ZM2035 3256V3042h1v15h1v-16h2v3h1v-8h1v-2h4v9h2v-1h2v5h2v1h2v3h1v-7h1v-1h1v-2h1v1h1v-1h1v1h5v2h2v1h1v1h4v6h1v-18h1v-1h1v1h1v-1h1v12h1v1h1v3h1v-1h1v-8h1v-1h1v1h1v-5h4v15h1v-8h1v1h1v-1h1v1h1v7h1v-14h1v-1h1v-1h2v11h2v8h1v-4h1v-1h1v1h2v-2h2v-13h2v1h1v-1h1v4h1v1h1v4h1v1h1v-1h2v-3h1v1h1v10h1v-10h1v3h1v-4h1v1h1v-1h2v-3h1v1h3v3h2v-1h1v1h3v4h1v2h1v-4h1v-7h4v7h5v1h1v4h2v1h3v1h1v2h1v-2h4v-12h4v12h1v-4h1v-13h4v1h2v9h1v-1h1v-15h1v1h3v24h2v-1h1v-2h1v-6h1v1h1v-1h1v-1h1v-3h2v-1h1v1h1v4h3v-8h4v10h4v4h1v-14h1v1h2v1h2v15h1v-32h1v1h2v-1h1v23h3v-9h1v-1h3v8h4v-1h1v-1h3v6h1v-1h4v1h2v1h1v-10h1v1h1v-1h2v10h2v19h1v-26h1v1h1v-1h2v8h2v3h1v-14h2v1h2v6h1v-8h4v2h1v1h2v11h2v-7h1v-1h2v-1h1v-1h6v1h1v8h1v-5h1v-3h1v1h1v-1h1v1h1V3256h-14v-2h-2v2h-3v-2h-1v2h-4v-2h-1v2h-7v-2h-1v2h-3v-2h-3v2h-11v-2h-2v2h-9v-2h-2v2h-1v-2h-1v2h-8v-2h-1v2h-7v-2h-1v2h-1v-2h-1v2h-1v-2h-1v2h-6v-2h-1v2h-5v-2h-1v2h-3v-2h-1v2h-1v-2h-1v2h-7v-2h-1v2h-3v-2h-1v2h-4v-2h-1v2h-1v-2h-1v2h-1v-2h-1v2h-2v-2h-1v2h-16v-2h-2v2h-13v-2h-1v2h-2v-2h-1v2h-2v-2h-1v2h-14v-2h-1v2h-14v-2h-1v2h-1v-2h-1v2h-3v-2h-1v2h-8v-2h-1v2h-23v-2h-1v2h-4v-2h-1v2h-1v-2h-1v2ZM2291 3254V3039h1v-1h2v-1h1v7h2v1h1v2h1v-1h1v-3h1v-8h3v1h1v11h1v1h3V3256h-10v-2h-1v2h-6v-2Z"/>
<path fill="none" stroke="#f00" stroke-width="3.4" d="M301 3183.7H308M720 3183.7H727M1154 3183.7H1161M1564 3183.7H1571M2029 3183.7H2036M2278 3183.7H2292"/>
</g>
<path fill="#fff" d="M471.1 3257.5V3205.5L471.9 3204L472.6 3205.5V3257.5ZM496.6 3257.5V3245.5L497.4 3244L498.1 3245.5V3257.5ZM534.0 3257.5V3251.5L534.8 3250L535.5 3251.5V3257.5ZM611.5 3257.5V3238L614.5 3232L617.5 3238V3257.5ZM663.6 3257.5V3237.5L664.4 3236L665.1 3237.5V3257.5ZM710.5 3257.5V3249L712.0 3246L713.5 3249V3257.5ZM773.5 3257.5V3247.5L774.3 3246L775.0 3247.5V3257.5ZM842.3 3257.5V3232L843.3 3230L844.3 3232V3257.5ZM897.0 3257.5V3238L898.0 3236L899.0 3238V3257.5ZM943.2 3257.5V3206.5L944.0 3205L944.8 3206.5V3257.5ZM950.2 3257.5V3241.5L951.0 3240L951.8 3241.5V3257.5ZM985.6 3257.5V3247.5L986.4 3246L987.1 3247.5V3257.5ZM1033.2 3257.5V3249.5L1034.0 3248L1034.8 3249.5V3257.5ZM1121.2 3257.5V3249.5L1122.0 3248L1122.8 3249.5V3257.5ZM1204.0 3257.5V3247.5L1204.7 3246L1205.5 3247.5V3257.5ZM1238.8 3257.5V3221.5L1239.5 3220L1240.2 3221.5V3257.5ZM1259.2 3257.5V3241.5L1260.0 3240L1260.8 3241.5V3257.5ZM1345.5 3257.5V3241L1348.0 3236L1350.5 3241V3257.5ZM1430.2 3257.5V3249.5L1431.0 3248L1431.8 3249.5V3257.5ZM1543.5 3257.5V3228L1546.0 3223L1548.5 3228V3257.5ZM1583.8 3257.5V3247.5L1584.5 3246L1585.2 3247.5V3257.5ZM1598.0 3257.5V3247.5L1598.8 3246L1599.5 3247.5V3257.5ZM1630.8 3257.5V3247.5L1631.5 3246L1632.2 3247.5V3257.5ZM1690.0 3257.5V3234.5L1690.8 3233L1691.5 3234.5V3257.5ZM1773.0 3257.5V3247.5L1773.7 3246L1774.5 3247.5V3257.5ZM1783.2 3257.5V3229.5L1783.9 3228L1784.7 3229.5V3257.5ZM1852.2 3257.5V3244.5L1852.9 3243L1853.7 3244.5V3257.5ZM1889.0 3257.5V3226.5L1889.7 3225L1890.5 3226.5V3257.5ZM1969.8 3257.5V3249.5L1970.5 3248L1971.2 3249.5V3257.5ZM1982.5 3257.5V3247.5L1983.3 3246L1984.0 3247.5V3257.5ZM2003.0 3257.5V3229.5L2003.7 3228L2004.5 3229.5V3257.5ZM2059.2 3257.5V3237.5L2060.0 3236L2060.8 3237.5V3257.5ZM2087.2 3257.5V3247.5L2088.0 3246L2088.8 3247.5V3257.5ZM2141.1 3257.5V3247.5L2141.8 3246L2142.6 3247.5V3257.5ZM2209.2 3257.5V3247.5L2210.0 3246L2210.8 3247.5V3257.5ZM2257.2 3257.5V3241.5L2258.0 3240L2258.8 3241.5V3257.5Z"/>
<text x="1247.00" y="1913.70" font-size="64" text-anchor="middle" letter-spacing="-1.787" word-spacing="10.3">Fatumonas − Mode 1, Band 2 (SKA)</text>
<text x="895.70" y="3490.80" font-size="60" text-anchor="middle" letter-spacing="1.240" word-spacing="16.2">200</text>
<text x="1600.00" y="3490.80" font-size="60" text-anchor="middle" letter-spacing="1.240" word-spacing="16.2">250</text>
<text x="2301.70" y="3490.80" font-size="60" text-anchor="middle" letter-spacing="1.240" word-spacing="16.2">300</text>
<text x="1248.80" y="3575.80" font-size="64" text-anchor="middle" letter-spacing="-1.957" word-spacing="10.5">Frequency (MHz)</text>
<text transform="translate(147.80 2131.38) rotate(-90)" font-size="60" text-anchor="middle" letter-spacing="1.240" word-spacing="16.2">−40</text>
<text transform="translate(147.80 2452.13) rotate(-90)" font-size="60" text-anchor="middle" letter-spacing="1.240" word-spacing="16.2">−60</text>
<text transform="translate(147.80 2771.79) rotate(-90)" font-size="60" text-anchor="middle" letter-spacing="1.240" word-spacing="16.2">−80</text>
<text transform="translate(147.80 3093.44) rotate(-90)" font-size="60" text-anchor="middle" letter-spacing="1.240" word-spacing="16.2">−100</text>
<text transform="translate(147.80 3413.30) rotate(-90)" font-size="60" text-anchor="middle" letter-spacing="1.240" word-spacing="16.2">−120</text>
<text transform="translate(52.60 2693.75) rotate(-90)" font-size="64" text-anchor="middle" letter-spacing="-2.000" word-spacing="10.5">Power Spectral Intensity (dBm)</text>
</g>
</svg>
</body>
</html>
